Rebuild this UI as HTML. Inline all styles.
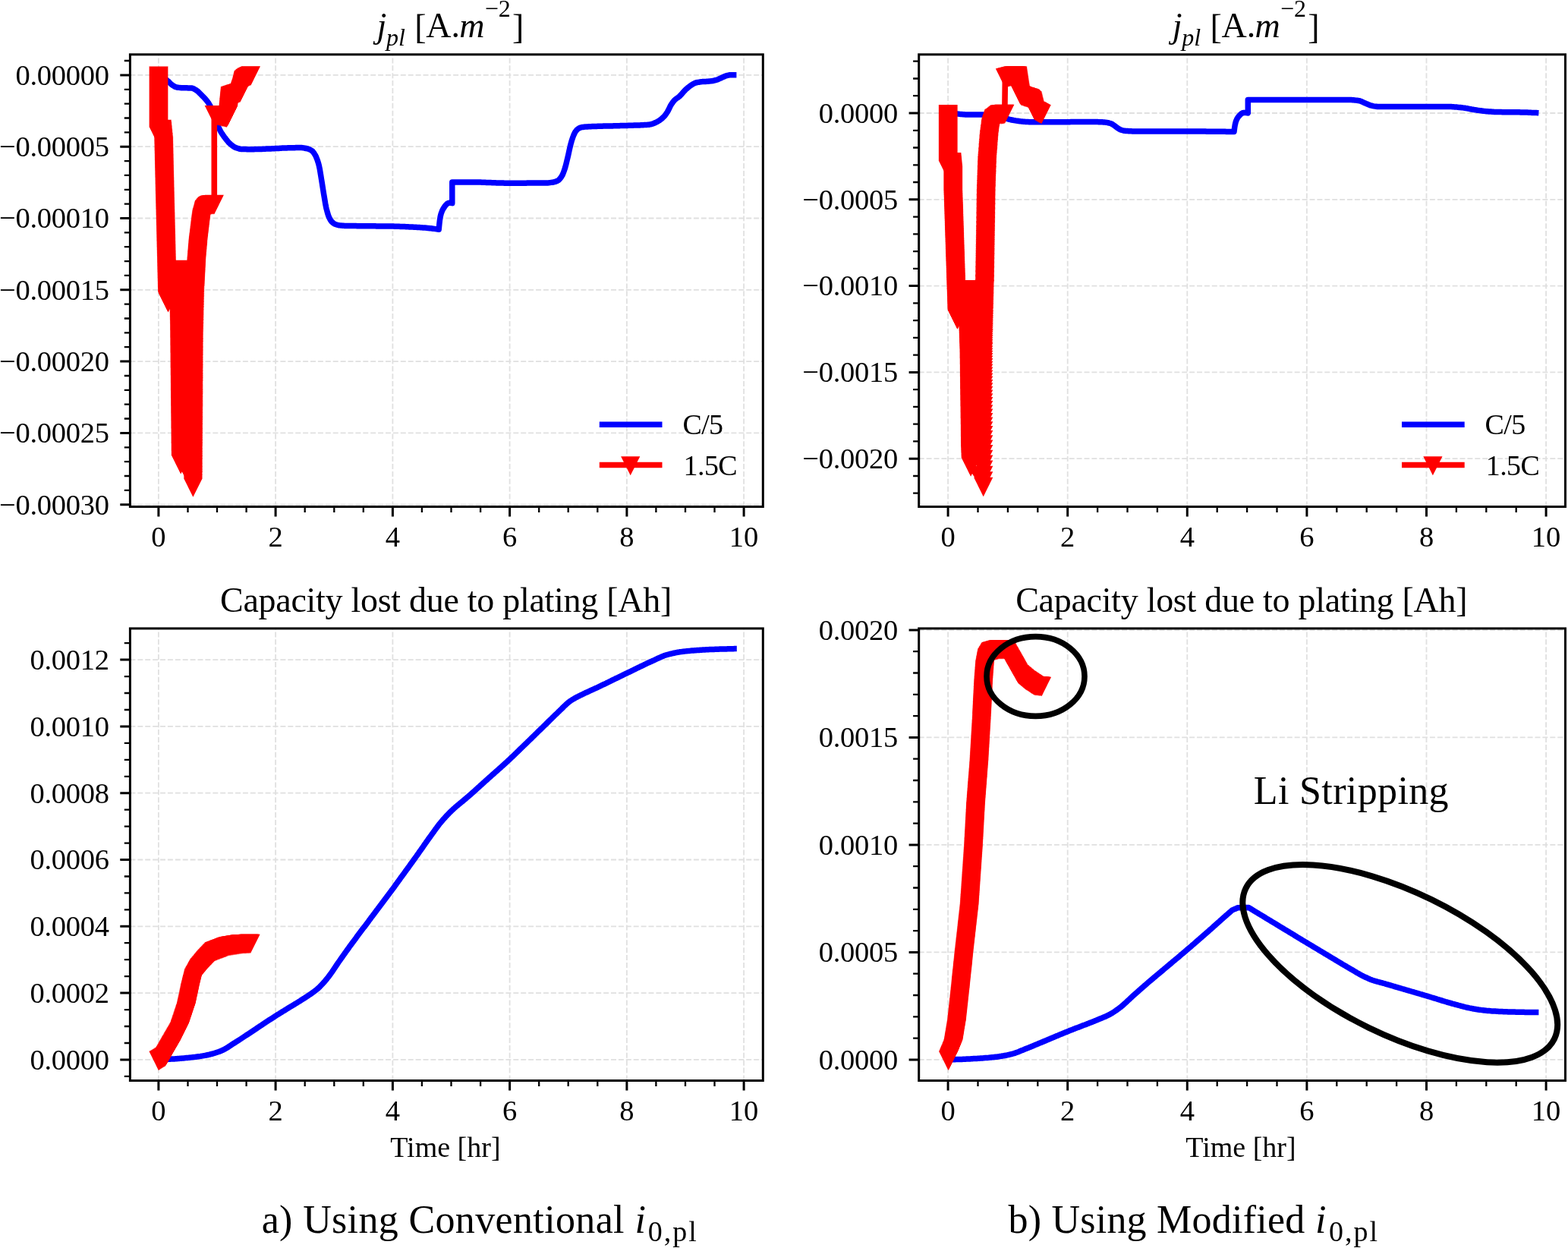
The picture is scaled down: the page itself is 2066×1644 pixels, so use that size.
<!DOCTYPE html>
<html lang="en"><head><meta charset="utf-8"><title>Plating current density and capacity lost</title>
<style>html,body{margin:0;padding:0;background:#fff}body{width:2066px;height:1644px;overflow:hidden}svg{display:block}text{font-family:'Liberation Serif', 'DejaVu Serif', serif;fill:#000}</style>
</head><body>
<svg width="2066" height="1644" viewBox="0 0 2066 1644">
<rect width="2066" height="1644" fill="#fff"/>
<defs>
<marker id="tri" markerUnits="userSpaceOnUse" markerWidth="30" markerHeight="30" refX="15" refY="15" orient="0" overflow="visible"><path d="M2.4 3.6H27.6L15 29Z" fill="#f00"/></marker>
<clipPath id="clipTL"><rect x="171.4" y="71.8" width="833.9" height="595.7"/></clipPath>
<clipPath id="clipTR"><rect x="1210.7" y="71.8" width="851.8" height="595.7"/></clipPath>
<clipPath id="clipBL"><rect x="171.4" y="827.9" width="833.9" height="595.6"/></clipPath>
<clipPath id="clipBR"><rect x="1210.7" y="827.9" width="851.8" height="595.6"/></clipPath>
</defs>
<g id="axTL">
<path d="M208.9 667.5V71.8M363.1 667.5V71.8M517.4 667.5V71.8M671.6 667.5V71.8M825.9 667.5V71.8M980.1 667.5V71.8M171.4 98.9H1005.3M171.4 193.2H1005.3M171.4 287.5H1005.3M171.4 381.8H1005.3M171.4 476.1H1005.3M171.4 570.4H1005.3M171.4 664.7H1005.3" fill="none" stroke="#e0e0e0" stroke-width="1.8" stroke-dasharray="7 2.9"/>
<g clip-path="url(#clipTL)">
<polyline points="208.9,98.9 210.4,99.8 211.9,100.7 213.4,101.6 214.9,102.5 215,102.6 216.4,103.4 217.9,104.4 219.4,105.3 220.9,106.4 221,106.5 222.4,107.7 223.9,109.3 225.3,110.8 226,111.3 226.8,111.9 228.3,112.9 229.8,113.8 231.3,114.5 232.8,115 232.9,115 234.3,115.2 235.8,115.4 237.3,115.6 238.8,115.7 240.3,115.8 241,115.8 241.8,115.8 243.3,115.8 244.8,115.8 246.3,115.8 247.8,115.9 249.3,115.9 250.8,115.9 251.8,115.9 252.3,115.9 253.8,116.3 255.2,116.9 256.7,117.7 258.1,118.5 258.2,118.6 259.7,119.6 261.2,120.8 262.7,122.3 264.2,123.8 265.7,125.4 266.9,126.6 267.2,126.9 268.7,128.4 270.2,130 271.7,131.7 273.2,133.6 274.5,135.4 274.7,135.7 276.2,138.3 277.7,141.3 279.2,144.8 280.7,148.5 282.2,152.4 283.7,156.4 285.2,160.4 286.6,164.2 288.1,167.8 289.6,171 290.8,173.2 291.1,173.8 292.6,176.2 294.1,178.4 295.6,180.5 295.8,180.7 297.1,182.4 298.6,184.4 300.1,186.2 301.6,187.9 303.1,189.3 303.4,189.6 304.6,190.6 306.1,191.8 307.6,192.8 309.1,193.8 310.6,194.5 310.9,194.6 312.1,195 313.6,195.5 315.1,196 316.6,196.3 318,196.5 318.5,196.5 319.5,196.5 321,196.6 322.5,196.6 324,196.6 325.5,196.7 327,196.7 328.5,196.7 330,196.7 330,196.7 331.5,196.7 333,196.7 334.5,196.7 336,196.6 337.5,196.6 339,196.6 340.5,196.5 342,196.5 343.5,196.4 345,196.4 346.5,196.3 347.9,196.2 349.4,196.2 350.9,196.1 352.4,196.1 353.9,196 355.4,195.9 356.9,195.9 358.4,195.8 358.8,195.8 359.9,195.8 361.4,195.7 362.9,195.6 364.4,195.5 365.9,195.4 367.4,195.4 368.9,195.3 370.4,195.2 371.9,195.1 373.4,195 374.9,195 376.4,194.9 377.9,194.9 379.3,194.8 380,194.8 380.8,194.8 382.3,194.8 383.8,194.7 385.3,194.7 386.8,194.7 388.3,194.7 389.8,194.6 391.3,194.6 392.8,194.6 394.3,194.6 395.8,194.6 396.4,194.6 397.3,194.6 398.8,194.7 400.3,194.9 401.8,195.2 403.3,195.5 404.8,195.8 405.2,195.9 406.3,196.2 407.8,196.8 409.2,197.5 410.7,198.5 411.5,199 412.2,199.7 413.7,201.6 415.2,204.1 416.5,206.6 416.7,207.1 418.2,210.8 419.7,215.7 420.3,217.9 421.2,222.2 422.7,231.2 423.4,235.5 424.2,240.4 425.7,250 426.6,255.6 427.2,259.2 428.7,268.2 429.7,273.3 430.2,275.4 431.7,281 432.9,284.6 433.2,285.3 434.7,288.5 436.2,291 436.6,291.5 437.7,292.6 439.2,293.9 440.6,294.8 441.7,295.3 442.1,295.5 443.6,296 445.1,296.4 446.6,296.7 448,296.9 448.1,296.9 449.6,297.1 451.1,297.2 452.6,297.3 454.1,297.4 455.5,297.4 455.6,297.4 457.1,297.4 458.6,297.5 460.1,297.5 461.6,297.5 463.1,297.6 464.6,297.6 466.1,297.6 467.6,297.6 469.1,297.6 470.5,297.7 472,297.7 473.5,297.7 475,297.7 476.5,297.7 478,297.7 479.5,297.7 481,297.8 482.5,297.8 484,297.8 485.5,297.8 487,297.8 488.5,297.8 490,297.8 491.5,297.8 493,297.8 494.5,297.8 496,297.9 497.5,297.9 499,297.9 500.5,297.9 501.9,297.9 503.4,297.9 504.9,297.9 506.4,297.9 507.9,298 509.4,298 510.9,298 512.4,298 513.9,298 515.4,298.1 516.9,298.1 517.2,298.1 518.4,298.1 519.9,298.2 521.4,298.2 522.9,298.2 524.4,298.3 525.9,298.3 527.4,298.4 528.9,298.4 530.4,298.5 531.9,298.6 533.3,298.6 534.8,298.7 536.3,298.8 537.8,298.8 539.3,298.9 540.8,299 542.3,299 543.6,299.1 543.8,299.1 545.3,299.2 546.8,299.3 548.3,299.3 549.8,299.4 551.3,299.5 552.8,299.6 554.3,299.7 555.8,299.8 557.3,299.9 558.8,300 560.3,300.1 561.8,300.2 562.5,300.3 563.2,300.4 564.7,300.5 566.2,300.7 567.7,300.8 569.2,301 570.7,301.2 572.2,301.4 573.7,301.6 575.2,301.8 576.7,302 578.2,302.2 578.9,294.8 579.5,289.6 579.6,289.3 580.2,285.4 580.9,282.5 581.4,280.8 581.6,280.3 582.3,278.5 582.9,277 583.6,275.7 584.3,274.5 585,273.5 585.1,273.3 585.6,272.5 586.3,271.5 587,270.6 587.7,269.8 588.4,269.1 589,268.5 589.5,268.2 589.7,268.1 590.4,267.7 591.1,267.5 591.7,267.3 592,267.3 592.4,267.3 593.1,267.3 593.8,267.3 594.4,267.4 595.1,267.5 595.8,267.6 595.8,239.9 597.3,239.9 598.8,239.9 600.3,239.9 601.8,239.9 603.3,239.9 604.8,239.9 606.3,239.9 607.8,239.9 609.3,239.9 610.8,239.9 612.3,239.9 613.8,239.9 615.3,239.9 616.8,239.9 618.3,239.9 619.8,239.9 620,239.9 621.3,239.9 622.8,239.9 624.3,239.9 625.8,239.9 627.3,240 628.8,240 630.3,240 631.8,240.1 633.3,240.1 634.8,240.2 636.3,240.2 637.8,240.3 639.3,240.3 640.8,240.4 642.3,240.4 643.7,240.5 645.2,240.6 646.7,240.6 648.2,240.7 649.7,240.7 651.2,240.8 652.7,240.8 654.2,240.9 655.7,240.9 657.2,241 658.7,241 660.2,241.1 661.7,241.1 663.2,241.1 664.7,241.2 666.2,241.2 667.7,241.2 669.2,241.2 670.3,241.2 670.7,241.2 672.2,241.2 673.7,241.2 675.2,241.2 676.7,241.2 678.2,241.2 679.7,241.2 681.2,241.2 682.7,241.2 684.2,241.2 685.7,241.2 687.2,241.2 688.7,241.2 690.2,241.2 691.7,241.2 693.2,241.2 694.7,241.1 696.2,241.1 697.7,241.1 699.2,241.1 700.7,241.1 702.2,241.1 703.7,241.1 705.2,241.1 706.7,241.1 708.2,241 709.7,241 711.2,241 712.7,241 714.2,241 715.7,241 717.2,240.9 718.7,240.9 720.2,240.9 720.7,240.9 721.7,240.9 723.2,240.8 724.7,240.6 726.2,240.4 727.7,240.2 729.2,240 729.5,239.9 730.7,239.6 732.2,239.2 733.7,238.6 735.2,237.8 735.8,237.4 736.6,236.8 738.1,235.1 739.6,233 740.8,231.1 741.1,230.5 742.6,226.9 744.1,222.5 744.6,221 745.6,217.3 747.1,211.2 748.4,205.9 748.6,204.9 750.1,198 751.6,191.4 752.1,189.6 753.1,185.9 754.6,181.3 755.3,179.5 756.1,177.5 757.6,174.4 758.4,173.2 759.1,172.3 760.6,170.6 762.1,169.4 762.2,169.4 763.6,168.7 765.1,168 766.6,167.6 767.2,167.5 768.1,167.4 769.6,167.2 771.1,167.1 772.6,166.9 773.5,166.9 774.1,166.9 775.6,166.8 777.1,166.7 778.6,166.7 780.1,166.6 781.6,166.5 783.1,166.5 784.6,166.4 786.1,166.4 787.6,166.3 789.1,166.3 790.6,166.2 792.1,166.2 793.6,166.2 795.1,166.1 796.6,166.1 798.1,166.1 799.6,166 801.1,166 802.6,166 804.1,165.9 805.6,165.9 807.1,165.9 808.6,165.8 810.1,165.8 811.6,165.8 813.1,165.7 814.6,165.7 816.1,165.7 817.6,165.6 819.1,165.6 820.6,165.5 822.1,165.5 823.6,165.4 825.1,165.4 825.1,165.4 826.6,165.4 828.1,165.3 829.6,165.3 831,165.2 832.5,165.2 834,165.2 835.5,165.1 837,165.1 838.5,165 840,165 841.5,164.9 843,164.9 844.5,164.8 846,164.8 847.5,164.7 849,164.6 850.5,164.5 852,164.5 852.8,164.4 853.5,164.3 855,164.2 856.5,163.9 857.7,163.7 858,163.6 859.5,163.2 861,162.7 862.5,162 864,161.3 865.5,160.6 865.5,160.6 867,159.8 868.5,158.9 870,157.8 871.5,156.7 873,155.4 873.2,155.2 874.5,153.9 876,152.2 877.5,150.2 879,148 879.4,147.4 880.5,145.4 882,142.3 883.5,139.2 884.1,138.2 885,136.8 886.5,134.6 888,132.8 888.7,132 889.5,131.3 891,130 892.5,129 894,127.9 895.5,126.7 895.7,126.5 897,125.2 898.5,123.5 900,121.8 901.5,120.1 902.7,118.8 903,118.5 904.5,117.1 906,115.8 907.5,114.6 909,113.4 909.6,113 910.5,112.4 912,111.4 913.5,110.5 915,109.7 916.5,109.1 916.6,109.1 918,108.7 919.5,108.4 921,108.2 922.5,107.9 923.6,107.8 923.9,107.8 925.4,107.6 926.9,107.5 928.4,107.4 929.9,107.4 931.4,107.3 932.9,107.2 934.4,107.1 935.2,107 935.9,106.9 937.4,106.7 938.9,106.5 940.4,106.2 941.9,105.8 942.9,105.6 943.4,105.5 944.9,105 946.4,104.4 947.9,103.7 949.4,103.1 950.7,102.5 950.9,102.4 952.4,101.7 953.9,101 955.4,100.3 956.9,99.8 956.9,99.8 958.4,99.4 959.9,99.1 961.4,98.8 962.3,98.8 962.9,98.8 964.4,98.8 965.9,98.8 967.4,98.8 968.9,98.8 970.4,98.8" fill="none" stroke="#00f" stroke-width="7.5" stroke-linejoin="round"/>
<polyline points="209,99 209,100 209,101 209,102 209,103 209,104 209,105 209,106 209,107 209,108 209,109 209,110 209,111 209,112 209,113 209,114 209,115 209,116 209,117 209,118 209,119 209,120 209,121 209,122 209,123 209,124 209,125 209,126 209,127 209,128 209,129 209,130 209,131 209,132 209,133 209,134 209,135 209,136 209,137 209,138 209,139 209,140 209,141 209,142 209,143 209,144 209,145 209,146 209,147 209,148 209,149 209,150 209,151 209,152 209,153 209,154 209,155 209,156 209,157 209,158 209,159 209,160 209,161 209,162 209,163 209,164 209,165 209,166 209,167 209,168 209,169 209,170 209,171 209,172 209,173 209,174 209,175 209,176 209,177 209,178 213.3,169.2 213.4,170.2 213.5,171.2 213.7,172.2 213.8,173.2 213.8,174.2 213.9,175.1 214.1,176.1 214.2,177.1 214.2,178.1 214.3,179.1 214.4,180.1 214.6,181.1 214.7,182.1 214.8,183.1 214.8,184.1 214.9,185.1 215.1,186.1 215.2,187 215.2,188 215.3,189 215.5,190 215.6,191 215.7,192 215.7,193 215.7,194 215.7,195 215.7,196 215.8,197 215.8,198 215.8,199 215.8,200 215.9,201 215.9,202 215.9,203 215.9,204 215.9,205 216,206 216,207 216,208 216,209 216.1,210 216.1,211 216.1,212 216.1,213 216.2,214 216.2,215 216.2,216 216.2,217 216.2,218 216.3,219 216.3,220 216.3,221 216.3,222 216.4,223 216.4,224 216.4,225 216.4,226 216.4,227 216.5,228 216.5,229 216.5,230 216.5,231 216.6,232 216.6,233 216.6,234 216.6,235 216.7,236 216.7,237 216.7,238 216.7,239 216.7,240 216.8,241 216.8,242 216.8,243 216.8,244 216.9,245 216.9,246 216.9,247 216.9,248 217,249 217,250 217,251 217,252 217,253 217.1,254 217.1,255 217.1,256 217.1,257 217.2,258 217.2,259 217.2,260 217.2,261 217.2,262 217.3,263 217.3,264 217.3,265 217.3,266 217.4,267 217.4,268 217.4,269 217.4,270 217.5,271 217.5,272 217.5,273 217.5,274 217.6,275 217.6,276 217.6,277 217.6,278 217.7,279 217.7,280 217.7,281 217.7,282 217.8,283 217.8,284 217.8,285 217.8,286 217.9,287 217.9,288 217.9,289 217.9,290 218,291 218,292 218,293 218,294 218.1,295 218.1,296 218.1,297 218.1,298 218.1,299 218.2,300 218.2,301 218.2,302 218.2,303 218.3,304 218.3,305 218.3,306 218.3,307 218.4,308 218.4,309 218.4,310 218.4,311 218.5,312 218.5,313 218.5,314 218.5,315 218.6,316 218.6,317 218.6,318 218.6,319 218.7,320 218.7,321 218.7,322 218.7,323 218.8,324 218.8,325 218.8,326 218.8,327 218.8,328 218.9,329 218.9,330 218.9,331 218.9,332 219,333 219,334 219,335 219,336 219.1,337 219.1,338 219.1,339 219.1,340 219.2,341 219.2,342 219.2,343 219.2,344 219.3,345 219.3,346 219.3,347 219.3,348 219.4,349 219.4,350 219.4,351 219.4,352 219.5,353 219.5,354 219.5,355 219.5,356 219.6,357 219.6,358 219.6,359 219.6,360 219.6,361 219.7,362 219.7,363 219.7,364 219.7,365 219.8,366 219.8,367 219.8,368 219.8,369 219.9,370 219.9,371 219.9,372 219.9,373 220,374 220,375 220,376 220,377 220.1,378 220.1,379 220.1,380 220.1,381 220.2,382 220.2,383 220.2,384 220.2,385 220.3,386 220.3,387 220.3,388 220.3,389 220.4,390 220.4,391 220.4,392 220.4,393 220.4,394 220.7,394.9 221,395.8 221.3,396.6 221.6,397.5 234.7,354.2 234.7,355.2 234.7,356.2 234.8,357.2 234.8,358.2 234.8,359.2 234.8,360.2 234.8,361.2 234.9,362.2 234.9,363.2 234.9,364.2 234.9,365.2 235,366.2 235,367.2 235,368.2 235,369.2 235,370.2 235.1,371.2 235.1,372.2 235.1,373.2 235.1,374.2 235.1,375.2 235.2,376.1 235.2,377.1 235.2,378.1 235.2,379.1 235.2,380.1 235.3,381.1 235.3,382.1 235.3,383.1 235.3,384.1 235.3,385.1 235.4,386.1 235.4,387.1 235.4,388.1 235.4,389.1 235.5,390.1 235.5,391.1 235.5,392.1 235.5,393.1 235.5,394.1 235.6,395.1 235.6,396.1 235.6,397.1 235.6,398.1 235.6,399.1 235.7,400.1 235.7,401.1 235.7,402.1 235.7,403.1 235.7,404.1 235.8,405.1 235.8,406.1 235.8,407.1 235.8,408.1 235.9,409.1 235.9,410.1 235.9,411.1 235.9,412.1 235.9,413.1 236,414.1 236,415.1 236,416.1 236,417.1 236,418.1 236.1,419 236.1,420 236.1,421 236.1,422 236.1,423 236.2,424 236.2,425 236.2,426 236.2,427 236.2,428 236.3,429 236.3,430 236.3,431 236.3,432 236.4,433 236.4,434 236.4,435 236.4,436 236.4,437 236.5,438 236.5,439 236.5,440 236.5,441 236.5,442 236.5,443 236.5,444 236.5,445 236.6,446 236.6,447 236.6,448 236.6,449 236.6,450 236.6,451 236.6,452 236.6,453 236.6,454 236.6,455 236.7,456 236.7,457 236.7,457.9 236.7,458.9 236.7,459.9 236.7,460.9 236.7,461.9 236.7,462.9 236.7,463.9 236.7,464.9 236.8,465.9 236.8,466.9 236.8,467.9 236.8,468.9 236.8,469.9 236.8,470.9 236.8,471.9 236.8,472.9 236.8,473.9 236.8,474.9 236.9,475.9 236.9,476.9 236.9,477.9 236.9,478.9 236.9,479.9 236.9,480.9 236.9,481.9 236.9,482.9 236.9,483.9 236.9,484.9 237,485.9 237,486.9 237,487.9 237,488.9 237,489.9 237,490.9 237,491.8 237,492.8 237,493.8 237,494.8 237.1,495.8 237.1,496.8 237.1,497.8 237.1,498.8 237.1,499.8 237.1,500.8 237.1,501.8 237.1,502.8 237.1,503.8 237.1,504.8 237.2,505.8 237.2,506.8 237.2,507.8 237.2,508.8 237.2,509.8 237.2,510.8 237.2,511.8 237.2,512.8 237.2,513.8 237.2,514.8 237.3,515.8 237.3,516.8 237.3,517.8 237.3,518.8 237.3,519.8 237.3,520.8 237.3,521.8 237.3,522.8 237.3,523.8 237.3,524.8 237.4,525.7 237.4,526.7 237.4,527.7 237.4,528.7 237.4,529.7 237.4,530.7 237.4,531.7 237.4,532.7 237.4,533.7 237.4,534.7 237.5,535.7 237.5,536.7 237.5,537.7 237.5,538.7 237.5,539.7 237.5,540.7 237.5,541.7 237.5,542.7 237.5,543.7 237.5,544.7 237.6,545.7 237.6,546.7 237.6,547.7 237.6,548.7 237.6,549.7 237.6,550.7 237.6,551.7 237.6,552.7 237.6,553.7 237.6,554.7 237.7,555.7 237.7,556.7 237.7,557.7 237.7,558.7 237.7,559.6 237.7,560.6 237.7,561.6 237.7,562.6 237.7,563.6 237.7,564.6 237.8,565.6 237.8,566.6 237.8,567.6 237.8,568.6 237.8,569.6 237.8,570.6 237.8,571.6 237.8,572.6 237.8,573.6 237.8,574.6 237.9,575.6 237.9,576.6 237.9,577.6 237.9,578.6 237.9,579.6 237.9,580.6 237.9,581.6 237.9,582.6 237.9,583.6 237.9,584.6 238,585.6 238,586.6 238,587.6 238,588.6 238,589.6 238,590.6 238,591.6 238,592.6 238,593.5 238,594.5 238.1,595.5 238.1,596.5 238.1,597.5 238.1,598.5 238.1,599.5 238.1,600.5 238.1,601.5 238.1,602.5 238.1,603.5 238.1,604.5 238.2,605.5 238.2,606.5 238.2,607.5 238.2,608.5 238.2,609.5 238.2,610.5 254.4,640.8 254.4,638.9 254.4,637 254.4,635.1 254.4,633.2 254.5,631.3 254.5,629.4 254.5,627.5 254.5,625.5 254.5,623.6 254.5,621.7 254.5,619.8 254.5,617.9 254.5,616 254.6,614.1 254.6,612.2 254.6,610.3 254.6,608.4 254.6,606.5 254.6,604.6 254.6,602.7 254.6,600.8 254.6,598.8 254.7,596.9 254.7,595 254.7,593.1 254.7,591.2 254.7,589.3 254.7,587.4 254.7,585.5 254.7,583.6 254.7,581.7 254.8,579.8 254.8,577.9 254.8,576 254.8,574.1 254.8,572.1 254.8,570.2 254.8,568.3 254.8,566.4 254.8,564.5 254.9,562.6 254.9,560.7 254.9,558.8 254.9,556.9 254.9,555 254.9,553.1 254.9,551.2 254.9,549.3 254.9,547.4 255,545.4 255,543.5 255,541.6 255,539.7 255,537.8 255,535.9 255,534 255,532.1 255,530.2 255.1,528.3 255.1,526.4 255.1,524.5 255.1,522.6 255.1,520.7 255.1,518.7 255.1,516.8 255.1,514.9 255.1,513 255.2,511.1 255.2,509.2 255.2,507.3 255.2,505.4 255.2,503.5 255.2,501.6 255.2,499.7 255.2,497.8 255.2,495.9 255.3,494 255.3,492 255.3,490.1 255.3,488.2 255.3,486.3 255.3,484.4 255.3,482.5 255.3,480.6 255.3,478.7 255.4,476.8 255.4,474.9 255.4,473 255.4,471.1 255.4,469.2 255.4,467.3 255.4,465.3 255.4,463.4 255.4,461.5 255.5,459.6 255.5,457.7 255.5,455.8 255.5,453.9 255.5,452 255.5,450.1 255.6,448.2 255.6,446.4 255.7,444.5 255.7,442.6 255.8,440.7 255.8,438.8 255.9,436.9 255.9,435.1 255.9,433.2 256,431.3 256,429.4 256.1,427.5 256.1,425.6 256.2,423.8 256.2,421.9 256.2,420 256.3,418.1 256.3,416.2 256.4,414.4 256.4,412.5 256.5,410.6 256.5,408.7 256.6,406.8 256.6,404.9 256.6,403.1 256.7,401.2 256.7,399.3 256.8,397.4 256.8,395.5 256.9,393.6 256.9,391.8 257,389.9 257,388 257.1,387 257.1,386 257.2,385 257.2,384 257.3,382.9 257.3,381.9 257.4,380.9 257.4,379.9 257.5,378.9 257.5,377.9 257.6,376.9 257.6,375.9 257.7,374.9 257.7,373.9 257.8,372.8 257.8,371.8 257.9,370.8 257.9,369.8 258,368.8 258.1,367.8 258.1,366.8 258.2,365.8 258.2,364.8 258.3,363.7 258.3,362.7 258.4,361.7 258.4,360.7 258.5,359.7 258.5,358.7 258.6,357.7 258.6,356.7 258.7,355.7 258.7,354.7 258.8,353.6 258.8,352.6 258.9,351.6 258.9,350.6 259,349.6 259.1,348.6 259.2,347.6 259.3,346.6 259.4,345.6 259.4,344.6 259.5,343.6 259.6,342.5 259.7,341.5 259.8,340.5 259.9,339.5 260,338.5 260.1,337.5 260.1,336.5 260.2,335.5 260.3,334.5 260.4,333.5 260.5,332.5 260.6,331.5 260.7,330.4 260.8,329.4 260.8,328.4 260.9,327.4 261,326.4 261.1,325.4 261.2,324.4 261.3,323.4 261.4,322.4 261.6,321.5 261.7,320.5 261.8,319.5 261.9,318.5 262,317.6 262.2,316.6 262.3,315.6 262.4,314.6 262.5,313.7 262.6,312.7 262.8,311.7 262.9,310.7 263,309.7 263.1,308.8 263.2,307.8 263.3,306.8 263.5,305.8 263.6,304.9 263.7,303.9 263.8,302.9 263.9,301.9 264.1,301 264.2,300 264.3,299 264.4,298 264.6,297 264.7,296 264.8,295 265,294 265.1,293 265.3,292 265.4,291 265.5,290 265.7,289 265.8,288 266.1,287 266.3,286 266.6,285.1 266.9,284.1 267.1,283.1 267.4,282.1 267.7,281.2 268,280.2 268.2,279.2 268.5,278.2 268.8,277.3 269,276.3 269.3,275.3 269.9,274.6 270.6,273.8 271.2,273.1 271.8,272.4 272.5,271.6 273.1,270.9 273.9,270.4 274.7,270 275.5,269.6 276.3,269.1 277.3,269 278.3,268.8 279.3,268.6 280.3,268.5 281.3,268.4 282.3,268.2 282.3,150.3 283.2,150.5 284.2,150.7 285.1,151 286.1,151.2 287,151.4 288,151.6 288.9,151.8 289.9,152 290.8,152.3 291.8,152.5 292.7,152.7 293.7,152.9 294.6,153.1 295.6,153.3 296.5,153.6 297.5,153.8 298.4,154 298.9,153.2 299.4,152.4 299.8,151.7 300.3,150.9 300.8,150.1 300.9,149.1 301,148.1 301.1,147.1 301.2,146.2 301.3,145.2 301.4,144.2 301.5,143.2 301.6,142.2 301.7,141.2 301.8,140.3 301.9,139.3 302,138.3 302.1,137.3 302.2,136.3 302.3,135.3 302.4,134.4 302.5,133.4 302.6,132.4 302.7,131.4 302.8,130.4 302.9,129.4 303,128.5 303.1,127.5 303.2,126.5 303.3,125.5 304.3,125.2 305.3,124.9 306.2,124.5 307.2,124.2 308.2,123.9 309.2,123.6 310.1,123.2 311.1,122.9 312.1,122.6 313.1,122.3 314,121.9 315,121.6 316,121.3 316.4,120.3 316.7,119.3 317.1,118.3 317.4,117.4 317.8,116.4 318.1,115.4 318.5,114.4 318.8,113.4 319,112.4 319.2,111.4 319.5,110.4 319.8,109.4 320,108.4 320.2,107.4 320.5,106.4 320.8,105.4 321,104.4 321.8,103.8 322.5,103.1 323.3,102.5 324.1,101.8 324.9,101.2 325.8,100.8 326.7,100.4 327.6,100 328.5,99.5 329.4,99.1 330.4,98.7" fill="none" stroke="#f00" stroke-width="7.6" stroke-linejoin="round"/>
<polyline points="209,99 209,100 209,101 209,102 209,103 209,104 209,105 209,106 209,107 209,108 209,109 209,110 209,111 209,112 209,113 209,114 209,115 209,116 209,117 209,118 209,119 209,120 209,121 209,122 209,123 209,124 209,125 209,126 209,127 209,128 209,129 209,130 209,131 209,132 209,133 209,134 209,135 209,136 209,137 209,138 209,139 209,140 209,141 209,142 209,143 209,144 209,145 209,146 209,147 209,148 209,149 209,150 209,151 209,152 209,153 209,154 209,155 209,156 209,157 209,158 209,159 209,160 209,161 209,162 209,163 209,164 209,165 209,166 209,167 209,168 209,169 209,170 209,171 209,172 209,173 209,174 209,175 209,176 209,177 209,178" fill="none" stroke="none" marker-start="url(#tri)" marker-mid="url(#tri)" marker-end="url(#tri)"/>
<polyline points="213.3,169.2 213.4,170.2 213.5,171.2 213.7,172.2 213.8,173.2 213.8,174.2 213.9,175.1 214.1,176.1 214.2,177.1 214.2,178.1 214.3,179.1 214.4,180.1 214.6,181.1 214.7,182.1 214.8,183.1 214.8,184.1 214.9,185.1 215.1,186.1 215.2,187 215.2,188 215.3,189 215.5,190 215.6,191 215.7,192 215.7,193 215.7,194 215.7,195 215.7,196 215.8,197 215.8,198 215.8,199 215.8,200 215.9,201 215.9,202 215.9,203 215.9,204 215.9,205 216,206 216,207 216,208 216,209 216.1,210 216.1,211 216.1,212 216.1,213 216.2,214 216.2,215 216.2,216 216.2,217 216.2,218 216.3,219 216.3,220 216.3,221 216.3,222 216.4,223 216.4,224 216.4,225 216.4,226 216.4,227 216.5,228 216.5,229 216.5,230 216.5,231 216.6,232 216.6,233 216.6,234 216.6,235 216.7,236 216.7,237 216.7,238 216.7,239 216.7,240 216.8,241 216.8,242 216.8,243 216.8,244 216.9,245 216.9,246 216.9,247 216.9,248 217,249 217,250 217,251 217,252 217,253 217.1,254 217.1,255 217.1,256 217.1,257 217.2,258 217.2,259 217.2,260 217.2,261 217.2,262 217.3,263 217.3,264 217.3,265 217.3,266 217.4,267 217.4,268 217.4,269 217.4,270 217.5,271 217.5,272 217.5,273 217.5,274 217.6,275 217.6,276 217.6,277 217.6,278 217.7,279 217.7,280 217.7,281 217.7,282 217.8,283 217.8,284 217.8,285 217.8,286 217.9,287 217.9,288 217.9,289 217.9,290 218,291 218,292 218,293 218,294 218.1,295 218.1,296 218.1,297 218.1,298 218.1,299 218.2,300 218.2,301 218.2,302 218.2,303 218.3,304 218.3,305 218.3,306 218.3,307 218.4,308 218.4,309 218.4,310 218.4,311 218.5,312 218.5,313 218.5,314 218.5,315 218.6,316 218.6,317 218.6,318 218.6,319 218.7,320 218.7,321 218.7,322 218.7,323 218.8,324 218.8,325 218.8,326 218.8,327 218.8,328 218.9,329 218.9,330 218.9,331 218.9,332 219,333 219,334 219,335 219,336 219.1,337 219.1,338 219.1,339 219.1,340 219.2,341 219.2,342 219.2,343 219.2,344 219.3,345 219.3,346 219.3,347 219.3,348 219.4,349 219.4,350 219.4,351 219.4,352 219.5,353 219.5,354 219.5,355 219.5,356 219.6,357 219.6,358 219.6,359 219.6,360 219.6,361 219.7,362 219.7,363 219.7,364 219.7,365 219.8,366 219.8,367 219.8,368 219.8,369 219.9,370 219.9,371 219.9,372 219.9,373 220,374 220,375 220,376 220,377 220.1,378 220.1,379 220.1,380 220.1,381 220.2,382 220.2,383 220.2,384 220.2,385 220.3,386 220.3,387 220.3,388 220.3,389 220.4,390 220.4,391 220.4,392 220.4,393 220.4,394 220.7,394.9 221,395.8 221.3,396.6 221.6,397.5" fill="none" stroke="none" marker-start="url(#tri)" marker-mid="url(#tri)" marker-end="url(#tri)"/>
<polyline points="234.7,354.2 234.7,355.2 234.7,356.2 234.8,357.2 234.8,358.2 234.8,359.2 234.8,360.2 234.8,361.2 234.9,362.2 234.9,363.2 234.9,364.2 234.9,365.2 235,366.2 235,367.2 235,368.2 235,369.2 235,370.2 235.1,371.2 235.1,372.2 235.1,373.2 235.1,374.2 235.1,375.2 235.2,376.1 235.2,377.1 235.2,378.1 235.2,379.1 235.2,380.1 235.3,381.1 235.3,382.1 235.3,383.1 235.3,384.1 235.3,385.1 235.4,386.1 235.4,387.1 235.4,388.1 235.4,389.1 235.5,390.1 235.5,391.1 235.5,392.1 235.5,393.1 235.5,394.1 235.6,395.1 235.6,396.1 235.6,397.1 235.6,398.1 235.6,399.1 235.7,400.1 235.7,401.1 235.7,402.1 235.7,403.1 235.7,404.1 235.8,405.1 235.8,406.1 235.8,407.1 235.8,408.1 235.9,409.1 235.9,410.1 235.9,411.1 235.9,412.1 235.9,413.1 236,414.1 236,415.1 236,416.1 236,417.1 236,418.1 236.1,419 236.1,420 236.1,421 236.1,422 236.1,423 236.2,424 236.2,425 236.2,426 236.2,427 236.2,428 236.3,429 236.3,430 236.3,431 236.3,432 236.4,433 236.4,434 236.4,435 236.4,436 236.4,437 236.5,438 236.5,439 236.5,440 236.5,441 236.5,442 236.5,443 236.5,444 236.5,445 236.6,446 236.6,447 236.6,448 236.6,449 236.6,450 236.6,451 236.6,452 236.6,453 236.6,454 236.6,455 236.7,456 236.7,457 236.7,457.9 236.7,458.9 236.7,459.9 236.7,460.9 236.7,461.9 236.7,462.9 236.7,463.9 236.7,464.9 236.8,465.9 236.8,466.9 236.8,467.9 236.8,468.9 236.8,469.9 236.8,470.9 236.8,471.9 236.8,472.9 236.8,473.9 236.8,474.9 236.9,475.9 236.9,476.9 236.9,477.9 236.9,478.9 236.9,479.9 236.9,480.9 236.9,481.9 236.9,482.9 236.9,483.9 236.9,484.9 237,485.9 237,486.9 237,487.9 237,488.9 237,489.9 237,490.9 237,491.8 237,492.8 237,493.8 237,494.8 237.1,495.8 237.1,496.8 237.1,497.8 237.1,498.8 237.1,499.8 237.1,500.8 237.1,501.8 237.1,502.8 237.1,503.8 237.1,504.8 237.2,505.8 237.2,506.8 237.2,507.8 237.2,508.8 237.2,509.8 237.2,510.8 237.2,511.8 237.2,512.8 237.2,513.8 237.2,514.8 237.3,515.8 237.3,516.8 237.3,517.8 237.3,518.8 237.3,519.8 237.3,520.8 237.3,521.8 237.3,522.8 237.3,523.8 237.3,524.8 237.4,525.7 237.4,526.7 237.4,527.7 237.4,528.7 237.4,529.7 237.4,530.7 237.4,531.7 237.4,532.7 237.4,533.7 237.4,534.7 237.5,535.7 237.5,536.7 237.5,537.7 237.5,538.7 237.5,539.7 237.5,540.7 237.5,541.7 237.5,542.7 237.5,543.7 237.5,544.7 237.6,545.7 237.6,546.7 237.6,547.7 237.6,548.7 237.6,549.7 237.6,550.7 237.6,551.7 237.6,552.7 237.6,553.7 237.6,554.7 237.7,555.7 237.7,556.7 237.7,557.7 237.7,558.7 237.7,559.6 237.7,560.6 237.7,561.6 237.7,562.6 237.7,563.6 237.7,564.6 237.8,565.6 237.8,566.6 237.8,567.6 237.8,568.6 237.8,569.6 237.8,570.6 237.8,571.6 237.8,572.6 237.8,573.6 237.8,574.6 237.9,575.6 237.9,576.6 237.9,577.6 237.9,578.6 237.9,579.6 237.9,580.6 237.9,581.6 237.9,582.6 237.9,583.6 237.9,584.6 238,585.6 238,586.6 238,587.6 238,588.6 238,589.6 238,590.6 238,591.6 238,592.6 238,593.5 238,594.5 238.1,595.5 238.1,596.5 238.1,597.5 238.1,598.5 238.1,599.5 238.1,600.5 238.1,601.5 238.1,602.5 238.1,603.5 238.1,604.5 238.2,605.5 238.2,606.5 238.2,607.5 238.2,608.5 238.2,609.5 238.2,610.5" fill="none" stroke="none" marker-start="url(#tri)" marker-mid="url(#tri)" marker-end="url(#tri)"/>
<polyline points="254.4,640.8 254.4,638.9 254.4,637 254.4,635.1 254.4,633.2 254.5,631.3 254.5,629.4 254.5,627.5 254.5,625.5 254.5,623.6 254.5,621.7 254.5,619.8 254.5,617.9 254.5,616 254.6,614.1 254.6,612.2 254.6,610.3 254.6,608.4 254.6,606.5 254.6,604.6 254.6,602.7 254.6,600.8 254.6,598.8 254.7,596.9 254.7,595 254.7,593.1 254.7,591.2 254.7,589.3 254.7,587.4 254.7,585.5 254.7,583.6 254.7,581.7 254.8,579.8 254.8,577.9 254.8,576 254.8,574.1 254.8,572.1 254.8,570.2 254.8,568.3 254.8,566.4 254.8,564.5 254.9,562.6 254.9,560.7 254.9,558.8 254.9,556.9 254.9,555 254.9,553.1 254.9,551.2 254.9,549.3 254.9,547.4 255,545.4 255,543.5 255,541.6 255,539.7 255,537.8 255,535.9 255,534 255,532.1 255,530.2 255.1,528.3 255.1,526.4 255.1,524.5 255.1,522.6 255.1,520.7 255.1,518.7 255.1,516.8 255.1,514.9 255.1,513 255.2,511.1 255.2,509.2 255.2,507.3 255.2,505.4 255.2,503.5 255.2,501.6 255.2,499.7 255.2,497.8 255.2,495.9 255.3,494 255.3,492 255.3,490.1 255.3,488.2 255.3,486.3 255.3,484.4 255.3,482.5 255.3,480.6 255.3,478.7 255.4,476.8 255.4,474.9 255.4,473 255.4,471.1 255.4,469.2 255.4,467.3 255.4,465.3 255.4,463.4 255.4,461.5 255.5,459.6 255.5,457.7 255.5,455.8 255.5,453.9 255.5,452 255.5,450.1 255.6,448.2 255.6,446.4 255.7,444.5 255.7,442.6 255.8,440.7 255.8,438.8 255.9,436.9 255.9,435.1 255.9,433.2 256,431.3 256,429.4 256.1,427.5 256.1,425.6 256.2,423.8 256.2,421.9 256.2,420 256.3,418.1 256.3,416.2 256.4,414.4 256.4,412.5 256.5,410.6 256.5,408.7 256.6,406.8 256.6,404.9 256.6,403.1 256.7,401.2 256.7,399.3 256.8,397.4 256.8,395.5 256.9,393.6 256.9,391.8 257,389.9 257,388 257.1,387 257.1,386 257.2,385 257.2,384 257.3,382.9 257.3,381.9 257.4,380.9 257.4,379.9 257.5,378.9 257.5,377.9 257.6,376.9 257.6,375.9 257.7,374.9 257.7,373.9 257.8,372.8 257.8,371.8 257.9,370.8 257.9,369.8 258,368.8 258.1,367.8 258.1,366.8 258.2,365.8 258.2,364.8 258.3,363.7 258.3,362.7 258.4,361.7 258.4,360.7 258.5,359.7 258.5,358.7 258.6,357.7 258.6,356.7 258.7,355.7 258.7,354.7 258.8,353.6 258.8,352.6 258.9,351.6 258.9,350.6 259,349.6 259.1,348.6 259.2,347.6 259.3,346.6 259.4,345.6 259.4,344.6 259.5,343.6 259.6,342.5 259.7,341.5 259.8,340.5 259.9,339.5 260,338.5 260.1,337.5 260.1,336.5 260.2,335.5 260.3,334.5 260.4,333.5 260.5,332.5 260.6,331.5 260.7,330.4 260.8,329.4 260.8,328.4 260.9,327.4 261,326.4 261.1,325.4 261.2,324.4 261.3,323.4 261.4,322.4 261.6,321.5 261.7,320.5 261.8,319.5 261.9,318.5 262,317.6 262.2,316.6 262.3,315.6 262.4,314.6 262.5,313.7 262.6,312.7 262.8,311.7 262.9,310.7 263,309.7 263.1,308.8 263.2,307.8 263.3,306.8 263.5,305.8 263.6,304.9 263.7,303.9 263.8,302.9 263.9,301.9 264.1,301 264.2,300 264.3,299 264.4,298 264.6,297 264.7,296 264.8,295 265,294 265.1,293 265.3,292 265.4,291 265.5,290 265.7,289 265.8,288 266.1,287 266.3,286 266.6,285.1 266.9,284.1 267.1,283.1 267.4,282.1 267.7,281.2 268,280.2 268.2,279.2 268.5,278.2 268.8,277.3 269,276.3 269.3,275.3 269.9,274.6 270.6,273.8 271.2,273.1 271.8,272.4 272.5,271.6 273.1,270.9 273.9,270.4 274.7,270 275.5,269.6 276.3,269.1 277.3,269 278.3,268.8 279.3,268.6 280.3,268.5 281.3,268.4 282.3,268.2" fill="none" stroke="none" marker-start="url(#tri)" marker-mid="url(#tri)" marker-end="url(#tri)"/>
<polyline points="282.3,150.3 283.2,150.5 284.2,150.7 285.1,151 286.1,151.2 287,151.4 288,151.6 288.9,151.8 289.9,152 290.8,152.3 291.8,152.5 292.7,152.7 293.7,152.9 294.6,153.1 295.6,153.3 296.5,153.6 297.5,153.8 298.4,154 298.9,153.2 299.4,152.4 299.8,151.7 300.3,150.9 300.8,150.1 300.9,149.1 301,148.1 301.1,147.1 301.2,146.2 301.3,145.2 301.4,144.2 301.5,143.2 301.6,142.2 301.7,141.2 301.8,140.3 301.9,139.3 302,138.3 302.1,137.3 302.2,136.3 302.3,135.3 302.4,134.4 302.5,133.4 302.6,132.4 302.7,131.4 302.8,130.4 302.9,129.4 303,128.5 303.1,127.5 303.2,126.5 303.3,125.5 304.3,125.2 305.3,124.9 306.2,124.5 307.2,124.2 308.2,123.9 309.2,123.6 310.1,123.2 311.1,122.9 312.1,122.6 313.1,122.3 314,121.9 315,121.6 316,121.3 316.4,120.3 316.7,119.3 317.1,118.3 317.4,117.4 317.8,116.4 318.1,115.4 318.5,114.4 318.8,113.4 319,112.4 319.2,111.4 319.5,110.4 319.8,109.4 320,108.4 320.2,107.4 320.5,106.4 320.8,105.4 321,104.4 321.8,103.8 322.5,103.1 323.3,102.5 324.1,101.8 324.9,101.2 325.8,100.8 326.7,100.4 327.6,100 328.5,99.5 329.4,99.1 330.4,98.7" fill="none" stroke="none" marker-start="url(#tri)" marker-mid="url(#tri)" marker-end="url(#tri)"/>
</g>
<path d="M247.5 667.5v7.6M286 667.5v7.6M324.6 667.5v7.6M401.7 667.5v7.6M440.3 667.5v7.6M478.8 667.5v7.6M555.9 667.5v7.6M594.5 667.5v7.6M633.1 667.5v7.6M710.2 667.5v7.6M748.7 667.5v7.6M787.3 667.5v7.6M864.4 667.5v7.6M903 667.5v7.6M941.5 667.5v7.6M171.4 80h-7.6M171.4 117.8h-7.6M171.4 136.6h-7.6M171.4 155.5h-7.6M171.4 174.3h-7.6M171.4 212.1h-7.6M171.4 230.9h-7.6M171.4 249.8h-7.6M171.4 268.6h-7.6M171.4 306.4h-7.6M171.4 325.2h-7.6M171.4 344.1h-7.6M171.4 362.9h-7.6M171.4 400.7h-7.6M171.4 419.5h-7.6M171.4 438.4h-7.6M171.4 457.2h-7.6M171.4 495h-7.6M171.4 513.8h-7.6M171.4 532.7h-7.6M171.4 551.5h-7.6M171.4 589.3h-7.6M171.4 608.1h-7.6M171.4 627h-7.6M171.4 645.8h-7.6" fill="none" stroke="#000" stroke-width="2.3"/>
<path d="M208.9 667.5v13.1M363.1 667.5v13.1M517.4 667.5v13.1M671.6 667.5v13.1M825.9 667.5v13.1M980.1 667.5v13.1M171.4 98.9h-13.1M171.4 193.2h-13.1M171.4 287.5h-13.1M171.4 381.8h-13.1M171.4 476.1h-13.1M171.4 570.4h-13.1M171.4 664.7h-13.1" fill="none" stroke="#000" stroke-width="3.0"/>
<rect x="171.4" y="71.8" width="833.9" height="595.7" fill="none" stroke="#000" stroke-width="3.0"/>
<g font-size="38.5" text-anchor="end" letter-spacing="-0.25">
<text x="143.8" y="111.7">0.00000</text>
<text x="143.8" y="206">−0.00005</text>
<text x="143.8" y="300.3">−0.00010</text>
<text x="143.8" y="394.6">−0.00015</text>
<text x="143.8" y="488.9">−0.00020</text>
<text x="143.8" y="583.2">−0.00025</text>
<text x="143.8" y="677.5">−0.00030</text>
</g>
<g font-size="38.5" text-anchor="middle">
<text x="208.9" y="719.9">0</text>
<text x="363.1" y="719.9">2</text>
<text x="517.4" y="719.9">4</text>
<text x="671.6" y="719.9">6</text>
<text x="825.9" y="719.9">8</text>
<text x="980.1" y="719.9">10</text>
</g>
</g>
<g id="axTR">
<path d="M1249.1 667.5V71.8M1406.7 667.5V71.8M1564.3 667.5V71.8M1721.9 667.5V71.8M1879.5 667.5V71.8M2037.1 667.5V71.8M1210.7 149H2062.5M1210.7 262.8H2062.5M1210.7 376.6H2062.5M1210.7 490.4H2062.5M1210.7 604.2H2062.5" fill="none" stroke="#e0e0e0" stroke-width="1.8" stroke-dasharray="7 2.9"/>
<g clip-path="url(#clipTR)">
<polyline points="1249.1,149 1250.6,149.1 1252.2,149.2 1253.7,149.3 1255.2,149.4 1255.3,149.4 1256.7,149.5 1258.3,149.7 1259.8,149.8 1261.3,149.9 1261.5,149.9 1262.8,150.1 1264.4,150.3 1265.9,150.4 1266.6,150.5 1267.4,150.6 1269,150.7 1270.5,150.8 1272,150.9 1273.5,150.9 1273.6,150.9 1275.1,151 1276.6,151 1278.1,151 1279.7,151 1281.2,151 1281.9,151 1282.7,151 1284.2,151 1285.8,151 1287.3,151 1288.8,151 1290.3,151 1291.9,151 1292.9,151.1 1293.4,151.1 1294.9,151.1 1296.5,151.2 1298,151.3 1299.4,151.4 1299.5,151.4 1301,151.5 1302.6,151.6 1304.1,151.8 1305.6,152 1307.2,152.2 1308.4,152.3 1308.7,152.4 1310.2,152.6 1311.7,152.8 1313.3,153 1314.8,153.2 1316.1,153.4 1316.3,153.4 1317.8,153.7 1319.4,154.1 1320.9,154.5 1322.4,155 1324,155.5 1325.5,155.9 1327,156.4 1328.5,156.9 1330.1,157.3 1331.6,157.7 1332.8,158 1333.1,158 1334.7,158.3 1336.2,158.6 1337.7,158.8 1337.9,158.9 1339.2,159.1 1340.8,159.3 1342.3,159.5 1343.8,159.7 1345.3,159.9 1345.7,159.9 1346.9,160.1 1348.4,160.2 1349.9,160.3 1351.5,160.4 1353,160.5 1353.3,160.5 1354.5,160.6 1356,160.7 1357.6,160.7 1359.1,160.8 1360.6,160.8 1361.1,160.8 1362.2,160.8 1363.7,160.8 1365.2,160.8 1366.7,160.8 1368.3,160.8 1369.8,160.8 1371.3,160.8 1372.8,160.8 1372.8,160.8 1374.4,160.8 1375.9,160.8 1377.4,160.8 1379,160.8 1380.5,160.8 1382,160.8 1383.5,160.8 1385.1,160.8 1386.6,160.8 1388.1,160.8 1389.6,160.8 1391.2,160.7 1392.7,160.7 1394.2,160.7 1395.8,160.7 1397.3,160.7 1398.8,160.7 1400.3,160.7 1401.9,160.7 1402.3,160.7 1403.4,160.7 1404.9,160.7 1406.5,160.7 1408,160.7 1409.5,160.7 1411,160.6 1412.6,160.6 1414.1,160.6 1415.6,160.6 1417.1,160.6 1418.7,160.6 1420.2,160.6 1421.7,160.6 1423.3,160.6 1423.9,160.6 1424.8,160.6 1426.3,160.6 1427.8,160.6 1429.4,160.6 1430.9,160.6 1432.4,160.6 1434,160.6 1435.5,160.6 1437,160.6 1438.5,160.5 1440.1,160.5 1440.7,160.5 1441.6,160.6 1443.1,160.6 1444.6,160.6 1446.2,160.6 1447.7,160.7 1449.2,160.7 1449.7,160.7 1450.8,160.7 1452.3,160.8 1453.8,160.9 1455.3,161 1456.1,161.1 1456.9,161.2 1458.4,161.4 1459.9,161.7 1461.2,162 1461.5,162.1 1463,162.5 1464.5,163.1 1465.1,163.4 1466,163.9 1467.6,165 1468.3,165.5 1469.1,166.1 1470.6,167.2 1471.5,167.9 1472.1,168.3 1473.7,169.4 1474.7,170 1475.2,170.3 1476.7,171 1478,171.4 1478.3,171.5 1479.8,171.9 1481.3,172.2 1481.8,172.2 1482.8,172.4 1484.4,172.5 1485.9,172.6 1487,172.7 1487.4,172.7 1489,172.8 1490.5,172.8 1492,172.9 1493.4,172.9 1493.5,172.9 1495.1,172.9 1496.6,172.9 1498.1,172.9 1499.6,172.9 1501.1,173 1501.2,173 1502.7,173 1504.2,173 1505.8,173 1507.3,173 1508.8,173 1510.3,173 1511.9,173 1513.4,173 1514.9,173 1516.4,173 1518,173 1519.5,173 1521,173 1522.6,173 1524.1,173 1525.6,173 1527.1,173 1528.7,173 1530.2,173 1531.7,173 1533.3,173 1534.8,173 1536.3,173 1537.8,173 1539.4,173 1540.9,173 1542.4,173 1543.9,173 1545.5,173 1547,173 1548.5,173 1550.1,173 1551.6,173 1553.1,173 1554.6,173 1556.2,173 1557.7,173 1559.2,173 1560.8,173 1562.3,173 1563.8,173 1564.1,173 1565.3,173 1566.9,173 1568.4,173.1 1569.9,173.1 1571.4,173.1 1573,173.1 1574.5,173.1 1576,173.1 1577.6,173.1 1579.1,173.1 1580.6,173.1 1582.1,173.1 1583.7,173.1 1585.2,173.1 1586.7,173.1 1588.3,173.1 1589.8,173.2 1591.1,173.2 1591.3,173.2 1592.8,173.2 1594.4,173.2 1595.9,173.2 1597.4,173.2 1598.9,173.2 1600.5,173.2 1602,173.2 1603.5,173.2 1605.1,173.3 1606.6,173.3 1608.1,173.3 1609.6,173.3 1610.4,173.3 1611.2,173.3 1612.7,173.3 1614.2,173.3 1615.8,173.4 1617.3,173.4 1618.8,173.4 1620.3,173.4 1621.9,173.5 1623.4,173.5 1624.9,173.5 1626,173.4 1626.7,168 1627.3,164.3 1627.4,164.1 1628,161.4 1628.7,159.3 1629.4,157.6 1629.8,156.8 1630.1,156.3 1630.7,155.2 1631.4,154.2 1632.1,153.3 1632.8,152.5 1633.5,151.8 1633.6,151.7 1634.1,151.2 1634.8,150.5 1635.5,149.9 1636.2,149.4 1636.8,149 1637.5,148.7 1638,148.6 1638.2,148.6 1638.9,148.6 1639.6,148.5 1640.2,148.5 1640.9,148.5 1641,148.5 1641.6,148.5 1642.3,148.6 1642.9,148.7 1643.6,148.8 1644.3,149 1644.3,131.6 1645.8,131.6 1647.3,131.6 1648.8,131.6 1650.3,131.6 1651.8,131.6 1653.3,131.6 1654.8,131.6 1656.3,131.6 1657.8,131.6 1659.3,131.6 1660.8,131.6 1662.3,131.6 1663.8,131.6 1665.3,131.6 1666.7,131.6 1668.2,131.6 1669.7,131.6 1671.2,131.5 1672.7,131.5 1674.2,131.5 1675.7,131.5 1677.2,131.5 1678.7,131.5 1680.2,131.5 1681.7,131.5 1683.2,131.5 1684.7,131.5 1686.2,131.5 1687.7,131.5 1689.2,131.5 1690.7,131.5 1692.2,131.5 1693.7,131.5 1695.2,131.5 1696.7,131.5 1698.2,131.5 1699.7,131.5 1701.2,131.5 1702.7,131.5 1704.2,131.5 1705.7,131.5 1707.2,131.5 1708.6,131.5 1710.1,131.5 1711.6,131.5 1713.1,131.5 1714.6,131.5 1716.1,131.5 1717.6,131.5 1719.1,131.5 1720,131.5 1720.6,131.5 1722.1,131.5 1723.6,131.5 1725.1,131.5 1726.6,131.5 1728.1,131.5 1729.6,131.5 1731.1,131.5 1732.6,131.5 1734.1,131.5 1735.6,131.5 1737.1,131.5 1738.6,131.5 1740.1,131.5 1741.6,131.5 1743.1,131.5 1744.6,131.5 1746.1,131.5 1747.6,131.5 1749.1,131.5 1750.6,131.5 1752,131.5 1753.5,131.5 1755,131.5 1756.5,131.5 1758,131.5 1759.5,131.5 1761,131.5 1762.5,131.5 1764,131.5 1765.5,131.5 1767,131.5 1768.5,131.5 1770,131.5 1771.5,131.5 1773,131.5 1774.5,131.5 1776,131.5 1777.5,131.5 1777.6,131.5 1779,131.5 1780.5,131.6 1782,131.7 1783.5,131.8 1785,131.9 1786.5,132.1 1788,132.3 1789.5,132.5 1790.8,132.7 1791,132.7 1792.5,133.1 1793.9,133.7 1795.4,134.4 1796.9,135.1 1798.4,135.8 1799,136 1799.9,136.4 1801.4,137 1802.9,137.7 1804.4,138.3 1805.9,138.9 1807.2,139.2 1807.4,139.2 1808.9,139.6 1810.4,139.9 1811.9,140.1 1813.4,140.3 1814.9,140.5 1816.4,140.6 1817.1,140.6 1817.9,140.6 1819.4,140.6 1820.9,140.6 1822.4,140.6 1823.9,140.6 1825.4,140.6 1826.9,140.6 1828.4,140.6 1829.9,140.6 1831.4,140.6 1832.9,140.6 1834.4,140.6 1835.8,140.6 1837.3,140.6 1838.8,140.6 1840.3,140.6 1841.8,140.6 1843.3,140.6 1844.8,140.6 1846.3,140.6 1847.8,140.6 1849.3,140.6 1850.8,140.6 1852.3,140.6 1853.8,140.6 1855.3,140.6 1856.8,140.6 1858.3,140.6 1859.8,140.6 1861.3,140.6 1862.8,140.6 1864.3,140.6 1865.8,140.6 1867.3,140.6 1868.8,140.6 1870.3,140.6 1871.8,140.6 1873.3,140.6 1874.8,140.6 1876.3,140.6 1877.8,140.6 1879.2,140.6 1880.7,140.6 1882.2,140.6 1883.7,140.6 1885.2,140.6 1886.7,140.6 1888.2,140.6 1889.7,140.6 1891.2,140.6 1892.7,140.6 1894.2,140.6 1895.7,140.6 1897.2,140.6 1898.7,140.6 1900.2,140.6 1901.7,140.6 1903.2,140.6 1904.7,140.6 1906.2,140.6 1907.7,140.6 1909.2,140.6 1909.3,140.6 1910.7,140.6 1912.2,140.6 1913.7,140.7 1915.2,140.8 1916.7,140.9 1918.2,141 1919.7,141.1 1921.1,141.3 1922.6,141.4 1924.1,141.5 1925.6,141.7 1925.7,141.7 1927.1,141.9 1928.6,142.1 1930.1,142.3 1931.6,142.6 1933.1,142.8 1934.6,143.1 1936.1,143.4 1937.6,143.7 1939.1,144 1940.6,144.2 1942.1,144.5 1942.2,144.5 1943.6,144.7 1945.1,144.9 1946.6,145.2 1948.1,145.4 1949.6,145.6 1951.1,145.8 1952.6,146.1 1954.1,146.2 1955.6,146.4 1957.1,146.6 1958.6,146.7 1958.6,146.7 1960.1,146.8 1961.6,146.9 1963.1,147 1964.5,147.1 1966,147.2 1967.5,147.3 1969,147.4 1970.5,147.5 1972,147.5 1973.5,147.6 1975,147.6 1975.1,147.6 1976.5,147.6 1978,147.6 1979.5,147.7 1981,147.7 1982.5,147.7 1984,147.7 1985.5,147.7 1987,147.7 1988.5,147.7 1990,147.7 1991.5,147.7 1993,147.7 1994.5,147.7 1996,147.8 1997.5,147.8 1999,147.8 1999.8,147.8 2000.5,147.8 2002,147.8 2003.5,147.9 2005,147.9 2006.4,147.9 2007.9,148 2009.4,148 2010.9,148.1 2012.4,148.1 2013.9,148.2 2015.4,148.2 2016.9,148.3 2018.4,148.4 2019.9,148.4 2021.4,148.5 2022.9,148.6 2024.4,148.6 2025.9,148.7 2027.4,148.8" fill="none" stroke="#00f" stroke-width="7.5" stroke-linejoin="round"/>
<polyline points="1249.2,149.3 1249.2,150.3 1249.2,151.3 1249.2,152.3 1249.2,153.3 1249.2,154.3 1249.2,155.3 1249.2,156.3 1249.2,157.3 1249.2,158.3 1249.2,159.3 1249.2,160.3 1249.2,161.3 1249.2,162.3 1249.2,163.3 1249.2,164.3 1249.2,165.3 1249.2,166.3 1249.2,167.3 1249.2,168.3 1249.2,169.3 1249.2,170.3 1249.2,171.3 1249.2,172.3 1249.2,173.3 1249.2,174.3 1249.2,175.3 1249.2,176.3 1249.2,177.3 1249.2,178.3 1249.2,179.3 1249.2,180.3 1249.2,181.3 1249.2,182.3 1249.2,183.3 1249.2,184.3 1249.2,185.3 1249.2,186.4 1249.2,187.4 1249.2,188.4 1249.2,189.4 1249.2,190.4 1249.2,191.4 1249.2,192.4 1249.2,193.4 1249.2,194.4 1249.2,195.4 1249.2,196.4 1249.2,197.4 1249.2,198.4 1249.2,199.4 1249.2,200.4 1249.2,201.4 1249.2,202.4 1249.2,203.4 1249.2,204.4 1249.2,205.4 1249.2,206.4 1249.2,207.4 1249.2,208.4 1249.2,209.4 1249.2,210.4 1249.2,211.4 1249.2,212.4 1249.2,213.4 1249.2,214.4 1249.2,215.4 1249.2,216.4 1249.2,217.4 1249.2,218.4 1249.2,219.4 1249.2,220.4 1249.2,221.4 1249.2,222.4 1254,212.5 1254.1,213.5 1254.2,214.5 1254.3,215.5 1254.4,216.5 1254.5,217.5 1254.6,218.5 1254.7,219.5 1254.8,220.5 1254.9,221.5 1255,222.4 1255.1,223.4 1255.2,224.4 1255.3,225.4 1255.4,226.4 1255.5,227.4 1255.6,228.4 1255.7,229.4 1255.8,230.4 1255.8,231.4 1255.8,232.4 1255.8,233.4 1255.8,234.4 1255.8,235.4 1255.8,236.4 1255.8,237.4 1255.8,238.4 1255.8,239.4 1255.8,240.4 1255.8,241.4 1255.8,242.4 1255.8,243.4 1255.8,244.4 1255.8,245.4 1255.8,246.4 1255.8,247.5 1255.8,248.5 1255.8,249.5 1255.8,250.5 1255.8,251.5 1255.8,252.5 1255.8,253.5 1255.8,254.5 1255.8,255.5 1255.8,256.5 1255.8,257.5 1255.8,258.5 1255.8,259.5 1255.8,260.5 1255.8,261.5 1255.9,262.5 1255.9,263.5 1255.9,264.5 1256,265.5 1256,266.5 1256,267.5 1256.1,268.5 1256.1,269.5 1256.1,270.5 1256.2,271.5 1256.2,272.5 1256.2,273.5 1256.3,274.5 1256.3,275.5 1256.3,276.5 1256.4,277.5 1256.4,278.5 1256.4,279.5 1256.5,280.5 1256.5,281.5 1256.5,282.5 1256.6,283.5 1256.6,284.5 1256.6,285.5 1256.7,286.5 1256.7,287.5 1256.7,288.4 1256.8,289.4 1256.8,290.4 1256.8,291.4 1256.8,292.4 1256.9,293.4 1256.9,294.4 1256.9,295.4 1257,296.4 1257,297.4 1257,298.4 1257.1,299.4 1257.1,300.4 1257.1,301.4 1257.2,302.4 1257.2,303.4 1257.2,304.4 1257.3,305.4 1257.3,306.4 1257.3,307.4 1257.4,308.4 1257.4,309.4 1257.4,310.4 1257.5,311.4 1257.5,312.4 1257.5,313.4 1257.6,314.4 1257.6,315.4 1257.6,316.4 1257.7,317.4 1257.7,318.4 1257.7,319.4 1257.7,320.4 1257.8,321.4 1257.8,322.4 1257.8,323.4 1257.9,324.4 1257.9,325.4 1257.9,326.4 1258,327.4 1258,328.4 1258,329.4 1258.1,330.4 1258.1,331.4 1258.1,332.4 1258.2,333.4 1258.2,334.4 1258.2,335.4 1258.3,336.4 1258.3,337.4 1258.3,338.4 1258.4,339.4 1258.4,340.3 1258.4,341.3 1258.5,342.3 1258.5,343.3 1258.5,344.3 1258.6,345.3 1258.6,346.3 1258.6,347.3 1258.6,348.3 1258.7,349.3 1258.7,350.3 1258.7,351.3 1258.8,352.3 1258.8,353.3 1258.8,354.3 1258.9,355.3 1258.9,356.3 1258.9,357.3 1259,358.3 1259,359.3 1259,360.3 1259.1,361.3 1259.1,362.3 1259.1,363.3 1259.2,364.3 1259.2,365.3 1259.2,366.3 1259.3,367.3 1259.3,368.3 1259.3,369.3 1259.4,370.3 1259.4,371.3 1259.4,372.3 1259.5,373.3 1259.5,374.3 1259.5,375.3 1259.5,376.3 1259.6,377.3 1259.6,378.3 1259.6,379.3 1259.7,380.3 1259.7,381.3 1259.7,382.3 1259.8,383.3 1259.8,384.3 1259.8,385.3 1259.9,386.3 1259.9,387.3 1259.9,388.3 1260,389.3 1260,390.3 1260,391.3 1260.1,392.2 1260.1,393.2 1260.1,394.2 1260.2,395.2 1260.2,396.2 1260.2,397.2 1260.3,398.2 1260.3,399.2 1260.3,400.2 1260.4,401.2 1260.4,402.2 1260.4,403.2 1260.4,404.2 1260.5,405.2 1260.5,406.2 1260.5,407.2 1260.6,408.2 1260.6,409.2 1260.6,410.2 1260.7,411.2 1260.7,412.2 1260.7,413.2 1260.8,414.2 1260.8,415.2 1260.8,416.2 1260.9,417.2 1260.9,418.2 1261.2,419 1261.6,419.8 1273.7,380.4 1273.7,381.4 1273.8,382.4 1273.8,383.4 1273.8,384.4 1273.9,385.4 1273.9,386.4 1273.9,387.4 1274,388.4 1274,389.4 1274.1,390.4 1274.1,391.4 1274.1,392.4 1274.2,393.4 1274.2,394.4 1274.2,395.4 1274.3,396.4 1274.3,397.4 1274.3,398.4 1274.4,399.4 1274.4,400.4 1274.4,401.4 1274.5,402.4 1274.5,403.4 1274.5,404.4 1274.6,405.4 1274.6,406.4 1274.6,407.4 1274.7,408.4 1274.7,409.4 1274.8,410.4 1274.8,411.4 1274.8,412.4 1274.9,413.4 1274.9,414.4 1274.9,415.4 1275,416.4 1275,417.4 1275,418.4 1275.1,419.4 1275.1,420.4 1275.1,421.4 1275.2,422.4 1275.2,423.4 1275.2,424.4 1275.3,425.4 1275.3,426.5 1275.4,427.5 1275.4,428.5 1275.4,429.5 1275.5,430.5 1275.5,431.5 1275.5,432.5 1275.6,433.5 1275.6,434.5 1275.6,435.5 1275.7,436.5 1275.7,437.5 1275.7,438.5 1275.8,439.5 1275.8,440.5 1275.8,441.5 1275.9,442.5 1275.9,443.5 1276,444.5 1276,445.5 1276,446.5 1276.1,447.5 1276.1,448.5 1276.1,449.5 1276.2,450.5 1276.2,451.5 1276.2,452.5 1276.3,453.5 1276.3,454.5 1276.3,455.5 1276.4,456.5 1276.4,457.5 1276.4,458.5 1276.5,459.5 1276.5,460.5 1276.5,461.5 1276.6,462.5 1276.6,463.5 1276.7,464.5 1276.7,465.5 1276.7,466.5 1276.8,467.5 1276.8,468.5 1276.8,469.5 1276.9,470.5 1276.9,471.5 1276.9,472.5 1276.9,473.5 1276.9,474.5 1277,475.5 1277,476.5 1277,477.5 1277,478.5 1277,479.5 1277,480.5 1277,481.5 1277,482.5 1277.1,483.5 1277.1,484.5 1277.1,485.5 1277.1,486.5 1277.1,487.5 1277.1,488.5 1277.1,489.5 1277.1,490.5 1277.2,491.5 1277.2,492.5 1277.2,493.5 1277.2,494.5 1277.2,495.5 1277.2,496.5 1277.2,497.5 1277.2,498.5 1277.3,499.5 1277.3,500.5 1277.3,501.5 1277.3,502.5 1277.3,503.4 1277.3,504.4 1277.3,505.4 1277.3,506.4 1277.4,507.4 1277.4,508.4 1277.4,509.4 1277.4,510.4 1277.4,511.4 1277.4,512.4 1277.4,513.4 1277.4,514.4 1277.5,515.4 1277.5,516.4 1277.5,517.4 1277.5,518.4 1277.5,519.4 1277.5,520.4 1277.5,521.4 1277.5,522.4 1277.6,523.4 1277.6,524.4 1277.6,525.4 1277.6,526.4 1277.6,527.4 1277.6,528.4 1277.6,529.4 1277.6,530.4 1277.7,531.4 1277.7,532.4 1277.7,533.4 1277.7,534.4 1277.7,535.4 1277.7,536.4 1277.7,537.4 1277.8,538.4 1277.8,539.4 1277.8,540.4 1277.8,541.4 1277.8,542.4 1277.8,543.4 1277.8,544.4 1277.8,545.4 1277.9,546.4 1277.9,547.4 1277.9,548.4 1277.9,549.4 1277.9,550.4 1277.9,551.4 1277.9,552.4 1277.9,553.4 1278,554.4 1278,555.4 1278,556.4 1278,557.4 1278,558.4 1278,559.4 1278,560.4 1278,561.4 1278.1,562.4 1278.1,563.4 1278.1,564.4 1278.1,565.4 1278.1,566.3 1278.1,567.3 1278.1,568.3 1278.1,569.3 1278.2,570.3 1278.2,571.3 1278.2,572.3 1278.2,573.3 1278.2,574.3 1278.2,575.3 1278.2,576.3 1278.2,577.3 1278.3,578.3 1278.3,579.3 1278.3,580.3 1278.3,581.3 1278.3,582.3 1278.3,583.3 1278.3,584.3 1278.3,585.3 1278.4,586.3 1278.4,587.3 1278.4,588.3 1278.4,589.3 1278.4,590.3 1278.4,591.3 1278.4,592.3 1278.4,593.3 1278.5,594.3 1278.5,595.3 1278.5,596.3 1278.5,597.3 1278.5,598.3 1278.6,599.3 1278.6,600.4 1278.7,601.4 1278.7,602.4 1278.7,603.5 1278.8,604.5 1278.8,605.5 1278.8,606.5 1278.9,607.5 1278.9,608.6 1278.9,609.6 1279,610.6 1279,611.7 1279.1,612.7 1279.1,613.7 1295.7,640.2 1295.7,632.6 1295.7,625.2 1295.7,618 1295.7,611 1295.7,604.1 1295.7,597.4 1295.7,590.9 1295.7,584.6 1295.7,578.4 1295.7,572.4 1295.7,566.6 1295.7,560.9 1295.7,555.3 1295.7,549.9 1295.7,544.6 1295.7,539.5 1295.7,534.5 1295.7,529.6 1295.7,524.8 1295.7,520.2 1295.7,515.7 1295.7,511.3 1295.7,507 1295.7,502.8 1295.7,498.8 1295.7,494.8 1295.7,491 1295.7,487.2 1295.7,483.5 1295.7,480 1295.7,476.5 1295.7,473.1 1295.7,469.8 1295.7,466.6 1295.7,463.5 1295.7,461.5 1295.8,458.5 1295.8,455.6 1295.9,452.7 1295.9,449.8 1296,447 1296.1,444.3 1296.1,441.6 1296.2,438.9 1296.2,436.3 1296.3,433.7 1296.3,431.2 1296.4,428.7 1296.4,426.3 1296.5,423.9 1296.5,421.6 1296.6,419.3 1296.6,417 1296.7,414.8 1296.7,412.6 1296.8,410.4 1296.8,408.3 1296.9,406.2 1296.9,404.2 1296.9,402.2 1297,400.2 1297,398.2 1297.1,396.3 1297.1,394.5 1297.1,392.6 1297.2,390.8 1297.2,389 1297.3,387.3 1297.3,385.6 1297.3,383.9 1297.4,382.2 1297.4,380.6 1297.4,380.5 1297.4,379.3 1297.4,378.1 1297.5,376.9 1297.5,375.7 1297.5,374.5 1297.5,373.3 1297.5,372.1 1297.6,370.9 1297.6,369.7 1297.6,368.5 1297.6,367.3 1297.6,366.1 1297.6,364.9 1297.7,363.7 1297.7,362.5 1297.7,361.3 1297.7,360.1 1297.7,358.9 1297.8,357.7 1297.8,356.5 1297.8,355.3 1297.8,354.1 1297.8,352.9 1297.9,351.6 1297.9,350.4 1297.9,349.2 1297.9,348 1297.9,346.8 1298,345.6 1298,344.4 1298,343.2 1298,342 1298,340.8 1298.1,339.6 1298.1,338.4 1298.1,337.2 1298.1,336 1298.1,334.8 1298.1,333.6 1298.2,332.4 1298.2,331.2 1298.2,330 1298.2,328.8 1298.2,327.6 1298.3,326.4 1298.3,325.2 1298.3,324 1298.3,322.8 1298.3,321.6 1298.4,320.4 1298.4,319.2 1298.4,318 1298.4,316.8 1298.4,315.6 1298.4,314.4 1298.5,313.2 1298.5,312 1298.5,310.8 1298.5,309.6 1298.5,308.4 1298.6,307.1 1298.6,305.9 1298.6,304.7 1298.6,303.5 1298.6,302.3 1298.7,301.1 1298.7,299.9 1298.7,298.7 1298.7,297.5 1298.7,296.3 1298.7,295.1 1298.8,293.9 1298.8,292.7 1298.8,291.5 1298.8,290.3 1298.8,289.1 1298.8,287.9 1298.9,286.7 1298.9,285.5 1298.9,284.3 1298.9,283.1 1298.9,281.9 1298.9,280.7 1299,279.5 1299,278.3 1299,277.1 1299,275.9 1299,274.7 1299,273.5 1299.1,272.3 1299.1,271.1 1299.1,269.9 1299.1,268.7 1299.1,267.5 1299.1,266.3 1299.2,265.1 1299.2,263.9 1299.2,262.7 1299.2,261.5 1299.2,260.3 1299.3,259.1 1299.3,257.9 1299.4,256.7 1299.4,255.5 1299.4,254.3 1299.5,253.2 1299.5,252 1299.6,250.8 1299.6,249.6 1299.6,248.4 1299.7,247.2 1299.7,246 1299.8,244.8 1299.8,243.6 1299.8,242.4 1299.9,241.2 1299.9,240 1300,238.9 1300,237.7 1300.1,236.5 1300.1,235.3 1300.1,234.1 1300.2,232.9 1300.2,231.7 1300.3,230.5 1300.3,229.3 1300.3,228.1 1300.4,226.9 1300.4,225.7 1300.5,224.6 1300.5,223.4 1300.5,222.2 1300.6,221 1300.6,219.8 1300.7,218.6 1300.7,217.4 1300.8,216.2 1300.9,215 1301,213.8 1301.1,212.6 1301.2,211.3 1301.3,210.1 1301.4,208.9 1301.5,207.7 1301.6,206.5 1301.7,205.3 1301.8,204.1 1301.9,202.9 1302,201.7 1302,200.4 1302.1,199.2 1302.2,198 1302.3,196.8 1302.4,195.6 1302.5,194.4 1302.6,193.2 1302.7,192 1302.8,190.7 1302.9,189.5 1303,188.3 1303.1,187.1 1303.2,185.9 1303.4,184.7 1303.5,183.5 1303.7,182.4 1303.8,181.2 1304,180 1304.1,178.8 1304.3,177.6 1304.5,176.4 1304.6,175.3 1304.8,174.1 1304.9,172.9 1305.1,171.7 1305.2,170.5 1305.4,169.4 1305.5,168.2 1305.7,167 1306.1,165.9 1306.5,164.7 1306.8,163.6 1307.2,162.5 1307.6,161.3 1308,160.2 1308.4,159.1 1308.7,158 1309.1,156.8 1309.5,155.7 1310.4,155 1311.4,154.3 1312.3,153.6 1313.2,152.8 1314.2,152.1 1315.1,151.4 1316.1,150.7 1317,150 1318.1,149.8 1319.3,149.7 1320.4,149.6 1321.5,149.4 1322.7,149.2 1323.8,149.1 1324.4,101.7 1325.4,101.5 1326.3,101.2 1327.3,101 1328.3,100.7 1329.2,100.5 1330.2,100.2 1331.1,100 1332.1,99.7 1333.1,99.5 1334,99.2 1335,99 1335.9,99 1336.9,99 1337.8,99 1338.8,99 1339.7,99 1340.7,99 1340.8,100 1340.9,101 1341.1,101.9 1341.2,102.9 1341.4,103.9 1341.5,104.9 1341.7,105.9 1341.8,106.8 1342,107.8 1342.1,108.8 1342.3,109.8 1342.4,110.8 1342.5,111.7 1342.7,112.7 1342.8,113.7 1343,114.7 1343.1,115.7 1343.3,116.6 1343.4,117.6 1343.6,118.6 1343.7,119.6 1343.9,120.6 1344,121.5 1344.2,122.5 1344.3,123.5 1345.1,124.3 1345.9,125.2 1346.8,125.5 1347.8,125.8 1348.7,126.1 1349.6,126.4 1350.5,126.7 1351.5,127 1352.4,127.3 1353.3,127.6 1354.2,127.9 1355.2,128.2 1356.1,128.5 1357,128.8 1357.6,129.4 1358.3,130.1 1358.9,130.7 1359.6,131.4 1360.2,132 1360.4,133 1360.7,133.9 1360.9,134.9 1361.2,135.9 1361.4,136.8 1361.6,137.8 1361.9,138.8 1362.1,139.8 1362.3,140.7 1362.6,141.7 1362.8,142.7 1363.1,143.6 1363.3,144.6 1364.2,145.1 1365.1,145.5 1366,146 1366.8,146.5 1367.7,146.9 1368.6,147.4 1369.5,147.9 1370.4,148.4 1371.3,148.8 1372.2,149.3" fill="none" stroke="#f00" stroke-width="7.6" stroke-linejoin="round"/>
<polyline points="1249.2,149.3 1249.2,150.3 1249.2,151.3 1249.2,152.3 1249.2,153.3 1249.2,154.3 1249.2,155.3 1249.2,156.3 1249.2,157.3 1249.2,158.3 1249.2,159.3 1249.2,160.3 1249.2,161.3 1249.2,162.3 1249.2,163.3 1249.2,164.3 1249.2,165.3 1249.2,166.3 1249.2,167.3 1249.2,168.3 1249.2,169.3 1249.2,170.3 1249.2,171.3 1249.2,172.3 1249.2,173.3 1249.2,174.3 1249.2,175.3 1249.2,176.3 1249.2,177.3 1249.2,178.3 1249.2,179.3 1249.2,180.3 1249.2,181.3 1249.2,182.3 1249.2,183.3 1249.2,184.3 1249.2,185.3 1249.2,186.4 1249.2,187.4 1249.2,188.4 1249.2,189.4 1249.2,190.4 1249.2,191.4 1249.2,192.4 1249.2,193.4 1249.2,194.4 1249.2,195.4 1249.2,196.4 1249.2,197.4 1249.2,198.4 1249.2,199.4 1249.2,200.4 1249.2,201.4 1249.2,202.4 1249.2,203.4 1249.2,204.4 1249.2,205.4 1249.2,206.4 1249.2,207.4 1249.2,208.4 1249.2,209.4 1249.2,210.4 1249.2,211.4 1249.2,212.4 1249.2,213.4 1249.2,214.4 1249.2,215.4 1249.2,216.4 1249.2,217.4 1249.2,218.4 1249.2,219.4 1249.2,220.4 1249.2,221.4 1249.2,222.4" fill="none" stroke="none" marker-start="url(#tri)" marker-mid="url(#tri)" marker-end="url(#tri)"/>
<polyline points="1254,212.5 1254.1,213.5 1254.2,214.5 1254.3,215.5 1254.4,216.5 1254.5,217.5 1254.6,218.5 1254.7,219.5 1254.8,220.5 1254.9,221.5 1255,222.4 1255.1,223.4 1255.2,224.4 1255.3,225.4 1255.4,226.4 1255.5,227.4 1255.6,228.4 1255.7,229.4 1255.8,230.4 1255.8,231.4 1255.8,232.4 1255.8,233.4 1255.8,234.4 1255.8,235.4 1255.8,236.4 1255.8,237.4 1255.8,238.4 1255.8,239.4 1255.8,240.4 1255.8,241.4 1255.8,242.4 1255.8,243.4 1255.8,244.4 1255.8,245.4 1255.8,246.4 1255.8,247.5 1255.8,248.5 1255.8,249.5 1255.8,250.5 1255.8,251.5 1255.8,252.5 1255.8,253.5 1255.8,254.5 1255.8,255.5 1255.8,256.5 1255.8,257.5 1255.8,258.5 1255.8,259.5 1255.8,260.5 1255.8,261.5 1255.9,262.5 1255.9,263.5 1255.9,264.5 1256,265.5 1256,266.5 1256,267.5 1256.1,268.5 1256.1,269.5 1256.1,270.5 1256.2,271.5 1256.2,272.5 1256.2,273.5 1256.3,274.5 1256.3,275.5 1256.3,276.5 1256.4,277.5 1256.4,278.5 1256.4,279.5 1256.5,280.5 1256.5,281.5 1256.5,282.5 1256.6,283.5 1256.6,284.5 1256.6,285.5 1256.7,286.5 1256.7,287.5 1256.7,288.4 1256.8,289.4 1256.8,290.4 1256.8,291.4 1256.8,292.4 1256.9,293.4 1256.9,294.4 1256.9,295.4 1257,296.4 1257,297.4 1257,298.4 1257.1,299.4 1257.1,300.4 1257.1,301.4 1257.2,302.4 1257.2,303.4 1257.2,304.4 1257.3,305.4 1257.3,306.4 1257.3,307.4 1257.4,308.4 1257.4,309.4 1257.4,310.4 1257.5,311.4 1257.5,312.4 1257.5,313.4 1257.6,314.4 1257.6,315.4 1257.6,316.4 1257.7,317.4 1257.7,318.4 1257.7,319.4 1257.7,320.4 1257.8,321.4 1257.8,322.4 1257.8,323.4 1257.9,324.4 1257.9,325.4 1257.9,326.4 1258,327.4 1258,328.4 1258,329.4 1258.1,330.4 1258.1,331.4 1258.1,332.4 1258.2,333.4 1258.2,334.4 1258.2,335.4 1258.3,336.4 1258.3,337.4 1258.3,338.4 1258.4,339.4 1258.4,340.3 1258.4,341.3 1258.5,342.3 1258.5,343.3 1258.5,344.3 1258.6,345.3 1258.6,346.3 1258.6,347.3 1258.6,348.3 1258.7,349.3 1258.7,350.3 1258.7,351.3 1258.8,352.3 1258.8,353.3 1258.8,354.3 1258.9,355.3 1258.9,356.3 1258.9,357.3 1259,358.3 1259,359.3 1259,360.3 1259.1,361.3 1259.1,362.3 1259.1,363.3 1259.2,364.3 1259.2,365.3 1259.2,366.3 1259.3,367.3 1259.3,368.3 1259.3,369.3 1259.4,370.3 1259.4,371.3 1259.4,372.3 1259.5,373.3 1259.5,374.3 1259.5,375.3 1259.5,376.3 1259.6,377.3 1259.6,378.3 1259.6,379.3 1259.7,380.3 1259.7,381.3 1259.7,382.3 1259.8,383.3 1259.8,384.3 1259.8,385.3 1259.9,386.3 1259.9,387.3 1259.9,388.3 1260,389.3 1260,390.3 1260,391.3 1260.1,392.2 1260.1,393.2 1260.1,394.2 1260.2,395.2 1260.2,396.2 1260.2,397.2 1260.3,398.2 1260.3,399.2 1260.3,400.2 1260.4,401.2 1260.4,402.2 1260.4,403.2 1260.4,404.2 1260.5,405.2 1260.5,406.2 1260.5,407.2 1260.6,408.2 1260.6,409.2 1260.6,410.2 1260.7,411.2 1260.7,412.2 1260.7,413.2 1260.8,414.2 1260.8,415.2 1260.8,416.2 1260.9,417.2 1260.9,418.2 1261.2,419 1261.6,419.8" fill="none" stroke="none" marker-start="url(#tri)" marker-mid="url(#tri)" marker-end="url(#tri)"/>
<polyline points="1273.7,380.4 1273.7,381.4 1273.8,382.4 1273.8,383.4 1273.8,384.4 1273.9,385.4 1273.9,386.4 1273.9,387.4 1274,388.4 1274,389.4 1274.1,390.4 1274.1,391.4 1274.1,392.4 1274.2,393.4 1274.2,394.4 1274.2,395.4 1274.3,396.4 1274.3,397.4 1274.3,398.4 1274.4,399.4 1274.4,400.4 1274.4,401.4 1274.5,402.4 1274.5,403.4 1274.5,404.4 1274.6,405.4 1274.6,406.4 1274.6,407.4 1274.7,408.4 1274.7,409.4 1274.8,410.4 1274.8,411.4 1274.8,412.4 1274.9,413.4 1274.9,414.4 1274.9,415.4 1275,416.4 1275,417.4 1275,418.4 1275.1,419.4 1275.1,420.4 1275.1,421.4 1275.2,422.4 1275.2,423.4 1275.2,424.4 1275.3,425.4 1275.3,426.5 1275.4,427.5 1275.4,428.5 1275.4,429.5 1275.5,430.5 1275.5,431.5 1275.5,432.5 1275.6,433.5 1275.6,434.5 1275.6,435.5 1275.7,436.5 1275.7,437.5 1275.7,438.5 1275.8,439.5 1275.8,440.5 1275.8,441.5 1275.9,442.5 1275.9,443.5 1276,444.5 1276,445.5 1276,446.5 1276.1,447.5 1276.1,448.5 1276.1,449.5 1276.2,450.5 1276.2,451.5 1276.2,452.5 1276.3,453.5 1276.3,454.5 1276.3,455.5 1276.4,456.5 1276.4,457.5 1276.4,458.5 1276.5,459.5 1276.5,460.5 1276.5,461.5 1276.6,462.5 1276.6,463.5 1276.7,464.5 1276.7,465.5 1276.7,466.5 1276.8,467.5 1276.8,468.5 1276.8,469.5 1276.9,470.5 1276.9,471.5 1276.9,472.5 1276.9,473.5 1276.9,474.5 1277,475.5 1277,476.5 1277,477.5 1277,478.5 1277,479.5 1277,480.5 1277,481.5 1277,482.5 1277.1,483.5 1277.1,484.5 1277.1,485.5 1277.1,486.5 1277.1,487.5 1277.1,488.5 1277.1,489.5 1277.1,490.5 1277.2,491.5 1277.2,492.5 1277.2,493.5 1277.2,494.5 1277.2,495.5 1277.2,496.5 1277.2,497.5 1277.2,498.5 1277.3,499.5 1277.3,500.5 1277.3,501.5 1277.3,502.5 1277.3,503.4 1277.3,504.4 1277.3,505.4 1277.3,506.4 1277.4,507.4 1277.4,508.4 1277.4,509.4 1277.4,510.4 1277.4,511.4 1277.4,512.4 1277.4,513.4 1277.4,514.4 1277.5,515.4 1277.5,516.4 1277.5,517.4 1277.5,518.4 1277.5,519.4 1277.5,520.4 1277.5,521.4 1277.5,522.4 1277.6,523.4 1277.6,524.4 1277.6,525.4 1277.6,526.4 1277.6,527.4 1277.6,528.4 1277.6,529.4 1277.6,530.4 1277.7,531.4 1277.7,532.4 1277.7,533.4 1277.7,534.4 1277.7,535.4 1277.7,536.4 1277.7,537.4 1277.8,538.4 1277.8,539.4 1277.8,540.4 1277.8,541.4 1277.8,542.4 1277.8,543.4 1277.8,544.4 1277.8,545.4 1277.9,546.4 1277.9,547.4 1277.9,548.4 1277.9,549.4 1277.9,550.4 1277.9,551.4 1277.9,552.4 1277.9,553.4 1278,554.4 1278,555.4 1278,556.4 1278,557.4 1278,558.4 1278,559.4 1278,560.4 1278,561.4 1278.1,562.4 1278.1,563.4 1278.1,564.4 1278.1,565.4 1278.1,566.3 1278.1,567.3 1278.1,568.3 1278.1,569.3 1278.2,570.3 1278.2,571.3 1278.2,572.3 1278.2,573.3 1278.2,574.3 1278.2,575.3 1278.2,576.3 1278.2,577.3 1278.3,578.3 1278.3,579.3 1278.3,580.3 1278.3,581.3 1278.3,582.3 1278.3,583.3 1278.3,584.3 1278.3,585.3 1278.4,586.3 1278.4,587.3 1278.4,588.3 1278.4,589.3 1278.4,590.3 1278.4,591.3 1278.4,592.3 1278.4,593.3 1278.5,594.3 1278.5,595.3 1278.5,596.3 1278.5,597.3 1278.5,598.3 1278.6,599.3 1278.6,600.4 1278.7,601.4 1278.7,602.4 1278.7,603.5 1278.8,604.5 1278.8,605.5 1278.8,606.5 1278.9,607.5 1278.9,608.6 1278.9,609.6 1279,610.6 1279,611.7 1279.1,612.7 1279.1,613.7" fill="none" stroke="none" marker-start="url(#tri)" marker-mid="url(#tri)" marker-end="url(#tri)"/>
<polyline points="1295.7,640.2 1295.7,632.6 1295.7,625.2 1295.7,618 1295.7,611 1295.7,604.1 1295.7,597.4 1295.7,590.9 1295.7,584.6 1295.7,578.4 1295.7,572.4 1295.7,566.6 1295.7,560.9 1295.7,555.3 1295.7,549.9 1295.7,544.6 1295.7,539.5 1295.7,534.5 1295.7,529.6 1295.7,524.8 1295.7,520.2 1295.7,515.7 1295.7,511.3 1295.7,507 1295.7,502.8 1295.7,498.8 1295.7,494.8 1295.7,491 1295.7,487.2 1295.7,483.5 1295.7,480 1295.7,476.5 1295.7,473.1 1295.7,469.8 1295.7,466.6 1295.7,463.5 1295.7,461.5 1295.8,458.5 1295.8,455.6 1295.9,452.7 1295.9,449.8 1296,447 1296.1,444.3 1296.1,441.6 1296.2,438.9 1296.2,436.3 1296.3,433.7 1296.3,431.2 1296.4,428.7 1296.4,426.3 1296.5,423.9 1296.5,421.6 1296.6,419.3 1296.6,417 1296.7,414.8 1296.7,412.6 1296.8,410.4 1296.8,408.3 1296.9,406.2 1296.9,404.2 1296.9,402.2 1297,400.2 1297,398.2 1297.1,396.3 1297.1,394.5 1297.1,392.6 1297.2,390.8 1297.2,389 1297.3,387.3 1297.3,385.6 1297.3,383.9 1297.4,382.2 1297.4,380.6 1297.4,380.5 1297.4,379.3 1297.4,378.1 1297.5,376.9 1297.5,375.7 1297.5,374.5 1297.5,373.3 1297.5,372.1 1297.6,370.9 1297.6,369.7 1297.6,368.5 1297.6,367.3 1297.6,366.1 1297.6,364.9 1297.7,363.7 1297.7,362.5 1297.7,361.3 1297.7,360.1 1297.7,358.9 1297.8,357.7 1297.8,356.5 1297.8,355.3 1297.8,354.1 1297.8,352.9 1297.9,351.6 1297.9,350.4 1297.9,349.2 1297.9,348 1297.9,346.8 1298,345.6 1298,344.4 1298,343.2 1298,342 1298,340.8 1298.1,339.6 1298.1,338.4 1298.1,337.2 1298.1,336 1298.1,334.8 1298.1,333.6 1298.2,332.4 1298.2,331.2 1298.2,330 1298.2,328.8 1298.2,327.6 1298.3,326.4 1298.3,325.2 1298.3,324 1298.3,322.8 1298.3,321.6 1298.4,320.4 1298.4,319.2 1298.4,318 1298.4,316.8 1298.4,315.6 1298.4,314.4 1298.5,313.2 1298.5,312 1298.5,310.8 1298.5,309.6 1298.5,308.4 1298.6,307.1 1298.6,305.9 1298.6,304.7 1298.6,303.5 1298.6,302.3 1298.7,301.1 1298.7,299.9 1298.7,298.7 1298.7,297.5 1298.7,296.3 1298.7,295.1 1298.8,293.9 1298.8,292.7 1298.8,291.5 1298.8,290.3 1298.8,289.1 1298.8,287.9 1298.9,286.7 1298.9,285.5 1298.9,284.3 1298.9,283.1 1298.9,281.9 1298.9,280.7 1299,279.5 1299,278.3 1299,277.1 1299,275.9 1299,274.7 1299,273.5 1299.1,272.3 1299.1,271.1 1299.1,269.9 1299.1,268.7 1299.1,267.5 1299.1,266.3 1299.2,265.1 1299.2,263.9 1299.2,262.7 1299.2,261.5 1299.2,260.3 1299.3,259.1 1299.3,257.9 1299.4,256.7 1299.4,255.5 1299.4,254.3 1299.5,253.2 1299.5,252 1299.6,250.8 1299.6,249.6 1299.6,248.4 1299.7,247.2 1299.7,246 1299.8,244.8 1299.8,243.6 1299.8,242.4 1299.9,241.2 1299.9,240 1300,238.9 1300,237.7 1300.1,236.5 1300.1,235.3 1300.1,234.1 1300.2,232.9 1300.2,231.7 1300.3,230.5 1300.3,229.3 1300.3,228.1 1300.4,226.9 1300.4,225.7 1300.5,224.6 1300.5,223.4 1300.5,222.2 1300.6,221 1300.6,219.8 1300.7,218.6 1300.7,217.4 1300.8,216.2 1300.9,215 1301,213.8 1301.1,212.6 1301.2,211.3 1301.3,210.1 1301.4,208.9 1301.5,207.7 1301.6,206.5 1301.7,205.3 1301.8,204.1 1301.9,202.9 1302,201.7 1302,200.4 1302.1,199.2 1302.2,198 1302.3,196.8 1302.4,195.6 1302.5,194.4 1302.6,193.2 1302.7,192 1302.8,190.7 1302.9,189.5 1303,188.3 1303.1,187.1 1303.2,185.9 1303.4,184.7 1303.5,183.5 1303.7,182.4 1303.8,181.2 1304,180 1304.1,178.8 1304.3,177.6 1304.5,176.4 1304.6,175.3 1304.8,174.1 1304.9,172.9 1305.1,171.7 1305.2,170.5 1305.4,169.4 1305.5,168.2 1305.7,167 1306.1,165.9 1306.5,164.7 1306.8,163.6 1307.2,162.5 1307.6,161.3 1308,160.2 1308.4,159.1 1308.7,158 1309.1,156.8 1309.5,155.7 1310.4,155 1311.4,154.3 1312.3,153.6 1313.2,152.8 1314.2,152.1 1315.1,151.4 1316.1,150.7 1317,150 1318.1,149.8 1319.3,149.7 1320.4,149.6 1321.5,149.4 1322.7,149.2 1323.8,149.1" fill="none" stroke="none" marker-start="url(#tri)" marker-mid="url(#tri)" marker-end="url(#tri)"/>
<polyline points="1324.4,101.7 1325.4,101.5 1326.3,101.2 1327.3,101 1328.3,100.7 1329.2,100.5 1330.2,100.2 1331.1,100 1332.1,99.7 1333.1,99.5 1334,99.2 1335,99 1335.9,99 1336.9,99 1337.8,99 1338.8,99 1339.7,99 1340.7,99 1340.8,100 1340.9,101 1341.1,101.9 1341.2,102.9 1341.4,103.9 1341.5,104.9 1341.7,105.9 1341.8,106.8 1342,107.8 1342.1,108.8 1342.3,109.8 1342.4,110.8 1342.5,111.7 1342.7,112.7 1342.8,113.7 1343,114.7 1343.1,115.7 1343.3,116.6 1343.4,117.6 1343.6,118.6 1343.7,119.6 1343.9,120.6 1344,121.5 1344.2,122.5 1344.3,123.5 1345.1,124.3 1345.9,125.2 1346.8,125.5 1347.8,125.8 1348.7,126.1 1349.6,126.4 1350.5,126.7 1351.5,127 1352.4,127.3 1353.3,127.6 1354.2,127.9 1355.2,128.2 1356.1,128.5 1357,128.8 1357.6,129.4 1358.3,130.1 1358.9,130.7 1359.6,131.4 1360.2,132 1360.4,133 1360.7,133.9 1360.9,134.9 1361.2,135.9 1361.4,136.8 1361.6,137.8 1361.9,138.8 1362.1,139.8 1362.3,140.7 1362.6,141.7 1362.8,142.7 1363.1,143.6 1363.3,144.6 1364.2,145.1 1365.1,145.5 1366,146 1366.8,146.5 1367.7,146.9 1368.6,147.4 1369.5,147.9 1370.4,148.4 1371.3,148.8 1372.2,149.3" fill="none" stroke="none" marker-start="url(#tri)" marker-mid="url(#tri)" marker-end="url(#tri)"/>
</g>
<path d="M1288.5 667.5v7.6M1327.9 667.5v7.6M1367.3 667.5v7.6M1446.1 667.5v7.6M1485.5 667.5v7.6M1524.9 667.5v7.6M1603.7 667.5v7.6M1643.1 667.5v7.6M1682.5 667.5v7.6M1761.3 667.5v7.6M1800.7 667.5v7.6M1840.1 667.5v7.6M1918.9 667.5v7.6M1958.3 667.5v7.6M1997.7 667.5v7.6M1210.7 80.7h-7.6M1210.7 103.5h-7.6M1210.7 126.2h-7.6M1210.7 171.8h-7.6M1210.7 194.5h-7.6M1210.7 217.3h-7.6M1210.7 240h-7.6M1210.7 285.6h-7.6M1210.7 308.3h-7.6M1210.7 331.1h-7.6M1210.7 353.8h-7.6M1210.7 399.4h-7.6M1210.7 422.1h-7.6M1210.7 444.9h-7.6M1210.7 467.6h-7.6M1210.7 513.2h-7.6M1210.7 535.9h-7.6M1210.7 558.7h-7.6M1210.7 581.4h-7.6M1210.7 627h-7.6M1210.7 649.7h-7.6" fill="none" stroke="#000" stroke-width="2.3"/>
<path d="M1249.1 667.5v13.1M1406.7 667.5v13.1M1564.3 667.5v13.1M1721.9 667.5v13.1M1879.5 667.5v13.1M2037.1 667.5v13.1M1210.7 149h-13.1M1210.7 262.8h-13.1M1210.7 376.6h-13.1M1210.7 490.4h-13.1M1210.7 604.2h-13.1" fill="none" stroke="#000" stroke-width="3.0"/>
<rect x="1210.7" y="71.8" width="851.8" height="595.7" fill="none" stroke="#000" stroke-width="3.0"/>
<g font-size="38.5" text-anchor="end" letter-spacing="-0.25">
<text x="1183.1" y="161.8">0.0000</text>
<text x="1183.1" y="275.6">−0.0005</text>
<text x="1183.1" y="389.4">−0.0010</text>
<text x="1183.1" y="503.2">−0.0015</text>
<text x="1183.1" y="617">−0.0020</text>
</g>
<g font-size="38.5" text-anchor="middle">
<text x="1249.1" y="719.9">0</text>
<text x="1406.7" y="719.9">2</text>
<text x="1564.3" y="719.9">4</text>
<text x="1721.9" y="719.9">6</text>
<text x="1879.5" y="719.9">8</text>
<text x="2037.1" y="719.9">10</text>
</g>
</g>
<g id="axBL">
<path d="M208.9 1423.5V827.9M363.1 1423.5V827.9M517.4 1423.5V827.9M671.6 1423.5V827.9M825.9 1423.5V827.9M980.1 1423.5V827.9M171.4 1395.9H1005.3M171.4 1308.1H1005.3M171.4 1220.3H1005.3M171.4 1132.5H1005.3M171.4 1044.7H1005.3M171.4 956.9H1005.3M171.4 869.1H1005.3" fill="none" stroke="#e0e0e0" stroke-width="1.8" stroke-dasharray="7 2.9"/>
<g clip-path="url(#clipBL)">
<polyline points="208.9,1395.9 210.4,1395.9 211.9,1395.8 213.4,1395.7 214.9,1395.7 216.4,1395.6 217.9,1395.5 219.4,1395.5 220.9,1395.4 222.4,1395.3 222.7,1395.3 223.9,1395.2 225.4,1395.1 226.9,1395.1 228.3,1395 229.8,1394.9 231.3,1394.8 232.8,1394.7 234.3,1394.5 235.8,1394.4 237.3,1394.3 238.8,1394.2 240.3,1394.1 241.8,1393.9 243.3,1393.8 244.8,1393.6 246.3,1393.5 247.4,1393.4 247.8,1393.4 249.3,1393.2 250.8,1393.1 252.3,1392.9 253.8,1392.7 255.3,1392.6 256.8,1392.4 258.3,1392.2 259.8,1392 261.3,1391.8 262.8,1391.6 264.3,1391.4 265.7,1391.1 267.2,1390.9 268.7,1390.6 270.2,1390.4 270.7,1390.3 271.7,1390.1 273.2,1389.8 274.7,1389.5 276.2,1389.1 277.7,1388.7 279.2,1388.3 280.7,1387.9 282.2,1387.5 283.7,1387 285.2,1386.5 286.7,1386 288.2,1385.5 289.7,1384.9 290.8,1384.5 291.2,1384.4 292.7,1383.7 294.2,1383 295.7,1382.2 297.2,1381.4 298.7,1380.5 300.2,1379.6 301.6,1378.6 303.1,1377.6 304.6,1376.7 306.1,1375.7 307.6,1374.7 309.1,1373.8 309.4,1373.6 310.6,1372.8 312.1,1371.9 313.6,1370.9 315.1,1370 316.6,1369 318.1,1368 319.6,1367 321.1,1366 322.6,1365 324.1,1364 324.9,1363.5 325.6,1363.1 327.1,1362.1 328.6,1361.1 330.1,1360.1 331.6,1359.1 333.1,1358.1 334.6,1357.1 336.1,1356.1 337.6,1355.1 339,1354.1 340.5,1353.1 342,1352.1 343.5,1351.1 345,1350.2 346.5,1349.2 348,1348.2 349.5,1347.2 351,1346.2 352.5,1345.2 354,1344.2 355.5,1343.2 357,1342.3 358.5,1341.3 360,1340.3 361.5,1339.4 363,1338.4 363.6,1338 364.5,1337.4 366,1336.5 367.5,1335.6 369,1334.6 370.5,1333.7 372,1332.8 373.5,1331.9 375,1331 376.4,1330.1 377.9,1329.1 379.4,1328.2 380.9,1327.3 382.4,1326.4 383.9,1325.5 385.4,1324.6 386.9,1323.7 388.4,1322.8 389.9,1321.9 391.4,1321 392.9,1320 394.4,1319.1 395.9,1318.2 397.4,1317.2 398.9,1316.2 400.4,1315.3 401.9,1314.3 402.3,1314 403.4,1313.3 404.9,1312.3 406.4,1311.3 407.9,1310.4 409.4,1309.4 410.9,1308.4 412.3,1307.3 413.8,1306.2 415.3,1305.1 416.8,1303.9 417.8,1303.1 418.3,1302.6 419.8,1301.3 421.3,1299.9 422.8,1298.3 424.3,1296.7 425.8,1295.1 427.3,1293.4 428.8,1291.7 430.2,1290 430.3,1289.9 431.8,1288 433.3,1286.1 434.8,1284 436.3,1282 437.8,1279.8 439.3,1277.6 440.8,1275.4 442.3,1273.2 443.8,1270.9 445.3,1268.7 446.8,1266.5 448.3,1264.4 448.8,1263.6 449.7,1262.3 451.2,1260.2 452.7,1258.1 454.2,1256 455.7,1253.9 457.2,1251.8 458.7,1249.7 460.2,1247.6 461.7,1245.6 463.2,1243.5 464.3,1242 464.7,1241.4 466.2,1239.4 467.7,1237.4 469.2,1235.4 470.7,1233.3 472.2,1231.3 473.7,1229.3 475.2,1227.3 476.7,1225.3 478.2,1223.3 479.7,1221.4 481.2,1219.4 482.7,1217.4 484.2,1215.4 485.7,1213.4 487.1,1211.4 488.6,1209.4 489.7,1208 490.1,1207.4 491.6,1205.4 493.1,1203.4 494.6,1201.4 496.1,1199.4 497.6,1197.5 499.1,1195.5 500.6,1193.5 502.1,1191.5 503.6,1189.5 505.1,1187.5 506.6,1185.5 508.1,1183.5 509.6,1181.5 511.1,1179.5 512.6,1177.5 514.1,1175.5 515.6,1173.5 516.5,1172.2 517.1,1171.4 518.6,1169.4 520.1,1167.4 521.6,1165.3 523,1163.3 524.5,1161.2 526,1159.2 527.5,1157.1 529,1155.1 530.5,1153 532,1151 533.5,1148.9 535,1146.8 536.5,1144.8 538,1142.7 539.5,1140.6 541,1138.5 542.5,1136.4 544,1134.4 545.5,1132.3 547,1130.2 547.4,1129.6 548.5,1128.1 550,1126 551.5,1123.9 553,1121.7 554.5,1119.6 556,1117.5 557.5,1115.4 559,1113.2 560.4,1111.1 561.9,1109 563.4,1106.9 564.9,1104.8 566,1103.3 566.4,1102.7 567.9,1100.6 569.4,1098.5 570.9,1096.5 572.4,1094.4 573.9,1092.3 575.4,1090.3 576.9,1088.2 578.4,1086.2 579.9,1084.4 581.4,1082.6 582.9,1080.8 584.4,1079.1 585.9,1077.4 587.4,1075.7 587.7,1075.4 588.9,1074.1 590.4,1072.6 591.9,1071 593.4,1069.6 594.9,1068.1 596.4,1066.7 597,1066.1 597.9,1065.3 599.4,1064 600.9,1062.6 602.4,1061.4 603.9,1060.1 605.4,1058.9 606.9,1057.6 608.4,1056.4 609.9,1055.2 611.3,1053.9 612.8,1052.7 614.3,1051.5 615.8,1050.2 617.1,1049.1 617.3,1048.9 618.8,1047.6 620.3,1046.3 621.8,1044.9 623.3,1043.6 624.8,1042.3 626.3,1040.9 627.8,1039.6 629.3,1038.2 630.8,1036.9 632.3,1035.5 633.8,1034.1 635.3,1032.8 636.8,1031.4 638.3,1030.1 639.8,1028.7 640.4,1028.2 641.3,1027.4 642.8,1026 644.3,1024.7 645.8,1023.4 647.3,1022 648.8,1020.7 650.3,1019.4 651.8,1018 653.3,1016.7 654.8,1015.4 656.3,1014 657.8,1012.7 659.3,1011.4 660.8,1010 662.3,1008.7 663.8,1007.3 665.3,1005.9 666.8,1004.6 668.3,1003.2 669.8,1001.8 671.3,1000.4 671.4,1000.3 672.8,999 674.3,997.6 675.8,996.2 677.2,994.8 678.7,993.3 680.2,991.9 681.7,990.4 683.2,989 684.7,987.5 686.2,986.1 687.7,984.6 689.2,983.2 690.7,981.7 692.2,980.3 693,979.5 693.7,978.8 695.2,977.3 696.7,975.9 698.2,974.4 699.7,973 701.2,971.5 702.7,970.1 704.2,968.6 705.7,967.1 707.2,965.7 708.7,964.2 710.2,962.7 711.7,961.3 712.5,960.5 713.2,959.8 714.7,958.4 716.2,956.9 717.7,955.4 719.2,954 720.7,952.5 722.2,951 723.7,949.5 725.2,948.1 726.7,946.6 728.2,945.1 729.7,943.7 731.2,942.2 731.9,941.5 732.7,940.8 734.2,939.3 735.7,937.8 737.2,936.4 738.7,934.9 740.2,933.5 741.7,932 741.7,932 743.1,930.6 744.6,929.2 746.1,927.8 747.6,926.4 749.1,925.2 749.4,925 750.6,924.1 752.1,923 753.6,922 755.1,921.1 756.3,920.4 756.6,920.2 758.1,919.4 759.6,918.5 761.1,917.8 762.6,917 764.1,916.3 765.6,915.5 767.1,914.8 767.5,914.6 768.6,914.1 770.1,913.3 771.6,912.6 773.1,912 774.6,911.3 776.1,910.6 777.6,909.9 779.1,909.2 780.6,908.6 782.1,907.9 783.6,907.2 785.1,906.5 785.5,906.3 786.6,905.8 788.1,905.1 789.6,904.4 791.1,903.7 792.6,902.9 794.1,902.2 795.6,901.5 797.1,900.8 798.6,900.1 800.1,899.3 801.6,898.6 803.1,897.9 804.6,897.2 806.1,896.4 807.5,895.7 809,895 810.5,894.2 812,893.5 813.5,892.8 815,892.1 816.5,891.3 818,890.6 819.5,889.9 821,889.1 822.5,888.4 824,887.7 825.5,887 826.3,886.6 827,886.3 828.5,885.5 830,884.8 831.5,884.1 833,883.3 834.5,882.6 836,881.9 837.5,881.1 839,880.4 840.5,879.7 842,879 843.5,878.2 845,877.5 846.5,876.8 848,876.1 849.5,875.3 851,874.6 852.5,873.9 854,873.2 855.5,872.5 857,871.8 858.5,871.2 860,870.5 860.4,870.3 861.5,869.8 863,869.1 864.5,868.4 866,867.7 867.5,867 869,866.3 870.5,865.7 872,865 873.4,864.4 874.9,863.8 876.4,863.3 877.9,862.8 879,862.5 879.4,862.4 880.9,862 882.4,861.6 883.9,861.2 885.4,860.9 886.9,860.5 888.4,860.2 889.9,859.9 891.4,859.6 892.9,859.3 894.4,859.1 895.9,858.8 897.4,858.6 898.9,858.4 899.1,858.4 900.4,858.2 901.9,858.1 903.4,857.9 904.9,857.7 906.4,857.6 907.9,857.4 909.4,857.3 910.9,857.1 912.4,857 913.9,856.9 915.4,856.8 916.9,856.7 918.4,856.6 919.9,856.5 921.4,856.4 922.3,856.3 922.9,856.3 924.4,856.2 925.9,856.1 927.4,856 928.9,855.9 930.4,855.8 931.9,855.8 933.4,855.7 934.9,855.6 936.4,855.6 937.9,855.5 939.3,855.4 940.8,855.4 942.3,855.3 943.8,855.3 945.3,855.2 945.6,855.2 946.8,855.2 948.3,855.1 949.8,855.1 951.3,855 952.8,855 954.3,854.9 955.8,854.9 957.3,854.9 958.8,854.8 960.3,854.8 961.8,854.8 963.3,854.7 964.8,854.7 966.3,854.7 967.8,854.6 969.3,854.6 970.8,854.6" fill="none" stroke="#00f" stroke-width="7.5" stroke-linejoin="round"/>
<polyline points="209,1396.2 209.8,1395.7 210.7,1395.2 211.6,1394.6 212.4,1394.1 213.2,1393.6 214.1,1393.1 214.9,1392.6 215.8,1392 216.7,1391.5 217.5,1391 218,1390.1 218.5,1389.3 219,1388.4 219.5,1387.6 220,1386.7 220.5,1385.8 221,1385 221.5,1384.1 222,1383.2 222.5,1382.4 223,1381.5 223.5,1380.7 223.9,1379.8 224.4,1378.9 224.9,1378.1 225.4,1377.2 225.9,1376.4 226.4,1375.5 226.9,1374.6 227.4,1373.8 227.9,1372.9 228.4,1372 228.9,1371.2 229.4,1370.3 229.9,1369.5 230.4,1368.6 230.9,1367.7 231.4,1366.9 231.9,1366 232.4,1365.2 232.9,1364.3 233.4,1363.4 233.9,1362.6 234.4,1361.7 234.9,1360.8 235.4,1360 235.9,1359.1 236.4,1358.3 236.8,1357.4 237.2,1356.4 237.5,1355.5 237.8,1354.5 238.1,1353.5 238.5,1352.6 238.8,1351.6 239.1,1350.7 239.4,1349.7 239.7,1348.7 240.1,1347.8 240.4,1346.8 240.7,1345.8 241,1344.9 241.3,1343.9 241.7,1343 242,1342 242.3,1341 242.6,1340.1 242.9,1339.1 243.3,1338.1 243.6,1337.2 243.9,1336.2 244.2,1335.3 244.5,1334.3 244.9,1333.3 245.2,1332.4 245.5,1331.4 245.7,1330.4 245.9,1329.5 246.1,1328.5 246.3,1327.5 246.5,1326.6 246.7,1325.6 246.9,1324.6 247.1,1323.7 247.4,1322.7 247.6,1321.7 247.8,1320.8 248,1319.8 248.2,1318.8 248.4,1317.9 248.6,1316.9 248.8,1316 249,1315 249.2,1314 249.4,1313.1 249.6,1312.1 249.8,1311.1 250,1310.2 250.2,1309.2 250.4,1308.2 250.6,1307.3 250.8,1306.3 251.1,1305.3 251.3,1304.3 251.6,1303.4 251.8,1302.4 252.1,1301.4 252.3,1300.4 252.5,1299.4 252.8,1298.5 253,1297.5 253.3,1296.5 253.5,1295.5 253.8,1294.6 254,1293.6 254.2,1292.6 254.5,1291.6 254.7,1290.6 255,1289.7 255.2,1288.7 255.4,1287.7 255.9,1286.9 256.4,1286 256.9,1285.2 257.3,1284.3 257.8,1283.5 258.3,1282.6 258.7,1281.8 259.2,1280.9 259.7,1280.1 260.1,1279.2 260.6,1278.4 261.1,1277.5 261.6,1276.7 262,1275.8 262.5,1275 263.1,1274.2 263.7,1273.5 264.4,1272.7 265,1272 265.6,1271.2 266.2,1270.5 266.9,1269.7 267.5,1269 268.1,1268.2 268.7,1267.4 269.3,1266.7 270,1265.9 270.6,1265.2 271.2,1264.4 271.8,1263.7 272.4,1262.9 273.2,1262.2 273.9,1261.4 274.6,1260.7 275.3,1259.9 276,1259.2 276.8,1258.4 277.5,1257.7 278.2,1257 278.9,1256.2 279.6,1255.5 280.3,1254.7 281.1,1254 281.8,1253.2 282.5,1252.5 283.4,1252.2 284.4,1251.8 285.3,1251.5 286.2,1251.1 287.1,1250.8 288.1,1250.4 289,1250 289.9,1249.7 290.8,1249.3 291.8,1249 292.7,1248.7 293.6,1248.3 294.5,1248 295.4,1247.6 296.4,1247.2 297.3,1246.9 298.2,1246.5 299.1,1246.2 300.1,1245.8 301,1245.5 302,1245.3 303,1245.2 304,1245 305,1244.8 306,1244.7 307,1244.5 308,1244.3 309,1244.2 310,1244 311,1243.9 312,1243.7 313,1243.5 314,1243.4 315,1243.2 316,1243 317,1242.9 318,1242.7 319,1242.7 320,1242.6 321,1242.5 322,1242.5 323,1242.5 324,1242.4 325,1242.3 326,1242.3 327,1242.2 328,1242.2 329,1242.1 330,1242.1" fill="none" stroke="#f00" stroke-width="7.6" stroke-linejoin="round"/>
<polyline points="209,1396.2 209.8,1395.7 210.7,1395.2 211.6,1394.6 212.4,1394.1 213.2,1393.6 214.1,1393.1 214.9,1392.6 215.8,1392 216.7,1391.5 217.5,1391 218,1390.1 218.5,1389.3 219,1388.4 219.5,1387.6 220,1386.7 220.5,1385.8 221,1385 221.5,1384.1 222,1383.2 222.5,1382.4 223,1381.5 223.5,1380.7 223.9,1379.8 224.4,1378.9 224.9,1378.1 225.4,1377.2 225.9,1376.4 226.4,1375.5 226.9,1374.6 227.4,1373.8 227.9,1372.9 228.4,1372 228.9,1371.2 229.4,1370.3 229.9,1369.5 230.4,1368.6 230.9,1367.7 231.4,1366.9 231.9,1366 232.4,1365.2 232.9,1364.3 233.4,1363.4 233.9,1362.6 234.4,1361.7 234.9,1360.8 235.4,1360 235.9,1359.1 236.4,1358.3 236.8,1357.4 237.2,1356.4 237.5,1355.5 237.8,1354.5 238.1,1353.5 238.5,1352.6 238.8,1351.6 239.1,1350.7 239.4,1349.7 239.7,1348.7 240.1,1347.8 240.4,1346.8 240.7,1345.8 241,1344.9 241.3,1343.9 241.7,1343 242,1342 242.3,1341 242.6,1340.1 242.9,1339.1 243.3,1338.1 243.6,1337.2 243.9,1336.2 244.2,1335.3 244.5,1334.3 244.9,1333.3 245.2,1332.4 245.5,1331.4 245.7,1330.4 245.9,1329.5 246.1,1328.5 246.3,1327.5 246.5,1326.6 246.7,1325.6 246.9,1324.6 247.1,1323.7 247.4,1322.7 247.6,1321.7 247.8,1320.8 248,1319.8 248.2,1318.8 248.4,1317.9 248.6,1316.9 248.8,1316 249,1315 249.2,1314 249.4,1313.1 249.6,1312.1 249.8,1311.1 250,1310.2 250.2,1309.2 250.4,1308.2 250.6,1307.3 250.8,1306.3 251.1,1305.3 251.3,1304.3 251.6,1303.4 251.8,1302.4 252.1,1301.4 252.3,1300.4 252.5,1299.4 252.8,1298.5 253,1297.5 253.3,1296.5 253.5,1295.5 253.8,1294.6 254,1293.6 254.2,1292.6 254.5,1291.6 254.7,1290.6 255,1289.7 255.2,1288.7 255.4,1287.7 255.9,1286.9 256.4,1286 256.9,1285.2 257.3,1284.3 257.8,1283.5 258.3,1282.6 258.7,1281.8 259.2,1280.9 259.7,1280.1 260.1,1279.2 260.6,1278.4 261.1,1277.5 261.6,1276.7 262,1275.8 262.5,1275 263.1,1274.2 263.7,1273.5 264.4,1272.7 265,1272 265.6,1271.2 266.2,1270.5 266.9,1269.7 267.5,1269 268.1,1268.2 268.7,1267.4 269.3,1266.7 270,1265.9 270.6,1265.2 271.2,1264.4 271.8,1263.7 272.4,1262.9 273.2,1262.2 273.9,1261.4 274.6,1260.7 275.3,1259.9 276,1259.2 276.8,1258.4 277.5,1257.7 278.2,1257 278.9,1256.2 279.6,1255.5 280.3,1254.7 281.1,1254 281.8,1253.2 282.5,1252.5 283.4,1252.2 284.4,1251.8 285.3,1251.5 286.2,1251.1 287.1,1250.8 288.1,1250.4 289,1250 289.9,1249.7 290.8,1249.3 291.8,1249 292.7,1248.7 293.6,1248.3 294.5,1248 295.4,1247.6 296.4,1247.2 297.3,1246.9 298.2,1246.5 299.1,1246.2 300.1,1245.8 301,1245.5 302,1245.3 303,1245.2 304,1245 305,1244.8 306,1244.7 307,1244.5 308,1244.3 309,1244.2 310,1244 311,1243.9 312,1243.7 313,1243.5 314,1243.4 315,1243.2 316,1243 317,1242.9 318,1242.7 319,1242.7 320,1242.6 321,1242.5 322,1242.5 323,1242.5 324,1242.4 325,1242.3 326,1242.3 327,1242.2 328,1242.2 329,1242.1 330,1242.1" fill="none" stroke="none" marker-start="url(#tri)" marker-mid="url(#tri)" marker-end="url(#tri)"/>
</g>
<path d="M247.5 1423.5v7.6M286 1423.5v7.6M324.6 1423.5v7.6M401.7 1423.5v7.6M440.3 1423.5v7.6M478.8 1423.5v7.6M555.9 1423.5v7.6M594.5 1423.5v7.6M633.1 1423.5v7.6M710.2 1423.5v7.6M748.7 1423.5v7.6M787.3 1423.5v7.6M864.4 1423.5v7.6M903 1423.5v7.6M941.5 1423.5v7.6M171.4 1417.9h-7.6M171.4 1374h-7.6M171.4 1352h-7.6M171.4 1330.1h-7.6M171.4 1286.2h-7.6M171.4 1264.2h-7.6M171.4 1242.2h-7.6M171.4 1198.4h-7.6M171.4 1176.4h-7.6M171.4 1154.5h-7.6M171.4 1110.6h-7.6M171.4 1088.6h-7.6M171.4 1066.7h-7.6M171.4 1022.8h-7.6M171.4 1000.8h-7.6M171.4 978.9h-7.6M171.4 935h-7.6M171.4 913h-7.6M171.4 891.1h-7.6M171.4 847.2h-7.6" fill="none" stroke="#000" stroke-width="2.3"/>
<path d="M208.9 1423.5v13.1M363.1 1423.5v13.1M517.4 1423.5v13.1M671.6 1423.5v13.1M825.9 1423.5v13.1M980.1 1423.5v13.1M171.4 1395.9h-13.1M171.4 1308.1h-13.1M171.4 1220.3h-13.1M171.4 1132.5h-13.1M171.4 1044.7h-13.1M171.4 956.9h-13.1M171.4 869.1h-13.1" fill="none" stroke="#000" stroke-width="3.0"/>
<rect x="171.4" y="827.9" width="833.9" height="595.6" fill="none" stroke="#000" stroke-width="3.0"/>
<g font-size="38.5" text-anchor="end" letter-spacing="-0.25">
<text x="143.8" y="1408.7">0.0000</text>
<text x="143.8" y="1320.9">0.0002</text>
<text x="143.8" y="1233.1">0.0004</text>
<text x="143.8" y="1145.3">0.0006</text>
<text x="143.8" y="1057.5">0.0008</text>
<text x="143.8" y="969.7">0.0010</text>
<text x="143.8" y="881.9">0.0012</text>
</g>
<g font-size="38.5" text-anchor="middle">
<text x="208.9" y="1475.9">0</text>
<text x="363.1" y="1475.9">2</text>
<text x="517.4" y="1475.9">4</text>
<text x="671.6" y="1475.9">6</text>
<text x="825.9" y="1475.9">8</text>
<text x="980.1" y="1475.9">10</text>
</g>
</g>
<g id="axBR">
<path d="M1249.1 1423.5V827.9M1406.7 1423.5V827.9M1564.3 1423.5V827.9M1721.9 1423.5V827.9M1879.5 1423.5V827.9M2037.1 1423.5V827.9M1210.7 1395.9H2062.5M1210.7 1254.4H2062.5M1210.7 1112.9H2062.5M1210.7 971.4H2062.5M1210.7 829.9H2062.5" fill="none" stroke="#e0e0e0" stroke-width="1.8" stroke-dasharray="7 2.9"/>
<g clip-path="url(#clipBR)">
<polyline points="1249.1,1395.9 1250.6,1395.9 1252.2,1395.8 1253.7,1395.8 1255.2,1395.8 1256.7,1395.7 1258.3,1395.7 1259.8,1395.6 1261.3,1395.6 1262.9,1395.5 1263.2,1395.5 1264.4,1395.5 1265.9,1395.4 1267.4,1395.4 1269,1395.3 1270.5,1395.2 1272,1395.2 1273.6,1395.1 1275.1,1395 1276.6,1394.9 1278.1,1394.9 1279.7,1394.8 1281.2,1394.7 1282.7,1394.6 1284.3,1394.5 1285.8,1394.4 1287.3,1394.4 1288.4,1394.3 1288.8,1394.3 1290.4,1394.2 1291.9,1394.1 1293.4,1394 1295,1393.9 1296.5,1393.7 1298,1393.6 1299.5,1393.5 1301.1,1393.4 1302.6,1393.3 1304.1,1393.1 1305.7,1393 1307.2,1392.8 1308.7,1392.7 1310.2,1392.5 1311.8,1392.3 1312.2,1392.3 1313.3,1392.2 1314.8,1392 1316.4,1391.8 1317.9,1391.5 1319.4,1391.3 1320.9,1391 1322.5,1390.8 1324,1390.5 1325.5,1390.2 1327.1,1389.9 1328.6,1389.5 1330.1,1389.2 1331.6,1388.8 1332.8,1388.6 1333.2,1388.5 1334.7,1388 1336.2,1387.6 1337.8,1387.1 1339.3,1386.5 1340.8,1386 1342.3,1385.4 1343.9,1384.7 1345.4,1384.1 1346.9,1383.5 1348.5,1382.9 1350,1382.2 1351.5,1381.6 1351.8,1381.5 1353,1381 1354.6,1380.4 1356.1,1379.8 1357.6,1379.2 1359.2,1378.5 1360.7,1377.9 1362.2,1377.3 1363.7,1376.6 1365.3,1376 1366.8,1375.4 1367.6,1375 1368.3,1374.7 1369.9,1374.1 1371.4,1373.5 1372.9,1372.8 1374.4,1372.2 1376,1371.5 1377.5,1370.9 1379,1370.3 1380.6,1369.6 1382.1,1369 1383.6,1368.3 1385.1,1367.7 1386.7,1367.1 1388.2,1366.4 1389.7,1365.8 1391.3,1365.1 1392.8,1364.5 1394.3,1363.9 1395.8,1363.2 1397.4,1362.6 1398.9,1362 1400.4,1361.3 1402,1360.7 1403.5,1360.1 1405,1359.5 1406.5,1358.8 1407.2,1358.6 1408.1,1358.2 1409.6,1357.6 1411.1,1357 1412.7,1356.4 1414.2,1355.8 1415.7,1355.2 1417.2,1354.6 1418.8,1354 1420.3,1353.5 1421.8,1352.9 1423.4,1352.3 1424.9,1351.7 1426.4,1351.1 1427.9,1350.5 1429.5,1350 1431,1349.4 1432.5,1348.8 1434.1,1348.2 1435.6,1347.6 1437.1,1347 1438.6,1346.4 1440.2,1345.8 1441.7,1345.2 1443.2,1344.6 1444.8,1343.9 1446.3,1343.3 1446.7,1343.1 1447.8,1342.7 1449.3,1342 1450.9,1341.4 1452.4,1340.8 1453.9,1340.1 1455.5,1339.5 1457,1338.8 1458.5,1338.1 1460,1337.4 1461.6,1336.6 1462.6,1336.1 1463.1,1335.8 1464.6,1334.9 1466.2,1334 1467.7,1333 1469.2,1332 1470.7,1330.9 1472.3,1329.8 1473.8,1328.7 1475.2,1327.6 1475.3,1327.6 1476.9,1326.4 1478.4,1325.1 1479.9,1323.8 1481.4,1322.4 1483,1321.1 1484.5,1319.7 1486,1318.2 1487.6,1316.8 1489.1,1315.3 1490.6,1313.9 1492.1,1312.5 1493.7,1311.1 1494.2,1310.6 1495.2,1309.8 1496.7,1308.4 1498.3,1307.1 1499.8,1305.7 1501.3,1304.3 1502.8,1303 1504.4,1301.7 1505.9,1300.3 1507.4,1299 1509,1297.7 1510.1,1296.7 1510.5,1296.3 1512,1295 1513.5,1293.7 1515.1,1292.4 1516.6,1291.1 1518.1,1289.8 1519.7,1288.5 1521.2,1287.2 1522.7,1286 1524.2,1284.7 1525.8,1283.4 1527.3,1282.1 1528.8,1280.8 1530.4,1279.5 1531.9,1278.3 1533.4,1277 1534.9,1275.7 1536,1274.8 1536.5,1274.4 1538,1273.1 1539.5,1271.8 1541.1,1270.5 1542.6,1269.3 1544.1,1268 1545.6,1266.7 1547.2,1265.4 1548.7,1264.1 1550.2,1262.9 1551.8,1261.6 1553.3,1260.3 1554.8,1259 1556.3,1257.7 1557.9,1256.4 1559.4,1255.1 1560.9,1253.8 1562.5,1252.5 1563.4,1251.7 1564,1251.2 1565.5,1249.9 1567,1248.6 1568.6,1247.3 1570.1,1246 1571.6,1244.6 1573.2,1243.3 1574.7,1242 1576.2,1240.7 1577.7,1239.3 1579.3,1238 1580.8,1236.7 1582.3,1235.3 1583.9,1234 1585.4,1232.7 1586.9,1231.3 1588.4,1230 1590,1228.7 1591.5,1227.3 1593,1226 1594.5,1224.6 1595,1224.2 1596.1,1223.3 1597.6,1221.9 1599.1,1220.5 1600.7,1219.2 1602.2,1217.8 1603.7,1216.4 1605.2,1215.1 1606.8,1213.7 1608.3,1212.3 1609.8,1211 1611.4,1209.6 1612.9,1208.2 1614,1207.3 1614.4,1206.9 1615.9,1205.6 1617.5,1204.2 1619,1202.9 1620.5,1201.6 1622.1,1200.2 1623.6,1198.9 1627.5,1197.3 1630.5,1195.8 1645.2,1195.5 1646.7,1196.4 1648.2,1197.3 1649.7,1198.2 1651.2,1199.1 1652.7,1200.1 1654.2,1201 1655.7,1201.9 1657.2,1202.8 1658.7,1203.7 1660.2,1204.6 1661.7,1205.5 1663.2,1206.4 1664.7,1207.3 1666.2,1208.2 1667.7,1209.2 1669.2,1210.1 1670.7,1211 1672.2,1211.9 1673.7,1212.8 1675.2,1213.7 1676.7,1214.6 1678.2,1215.5 1679.7,1216.4 1681.2,1217.3 1682.7,1218.2 1684.2,1219.1 1685.7,1220.1 1687.2,1221 1688.7,1221.9 1690.2,1222.8 1690.2,1222.8 1691.7,1223.7 1693.2,1224.6 1694.7,1225.5 1696.2,1226.4 1697.7,1227.3 1699.2,1228.2 1700.7,1229.1 1702.2,1230 1703.7,1230.9 1705.2,1231.8 1706.7,1232.8 1708.2,1233.7 1709.6,1234.6 1711.1,1235.5 1712.6,1236.4 1714.1,1237.3 1715.6,1238.2 1717.1,1239.1 1718.6,1240 1720.1,1240.9 1721.6,1241.8 1723.1,1242.7 1724.6,1243.6 1726.1,1244.5 1727.6,1245.4 1729.1,1246.3 1730.6,1247.2 1732.1,1248.1 1733.6,1249 1735.1,1249.9 1736.6,1250.8 1738.1,1251.7 1739.6,1252.6 1741.1,1253.5 1742.6,1254.4 1744.1,1255.3 1744.4,1255.5 1745.6,1256.2 1747.1,1257.1 1748.6,1258 1750.1,1258.9 1751.6,1259.8 1753.1,1260.7 1754.6,1261.6 1756.1,1262.5 1757.6,1263.4 1759.1,1264.3 1760.6,1265.2 1762.1,1266.1 1763.6,1267 1765.1,1267.9 1766.6,1268.8 1768.1,1269.7 1769.6,1270.6 1771.1,1271.5 1772.6,1272.3 1774.1,1273.2 1775.6,1274.1 1777.1,1275 1778.6,1275.9 1780.1,1276.7 1780.4,1276.9 1781.6,1277.6 1783.1,1278.5 1784.6,1279.4 1786.1,1280.3 1787.6,1281.2 1789.1,1282 1790.6,1282.9 1792.1,1283.7 1793.6,1284.6 1795.1,1285.3 1796.2,1285.9 1796.6,1286.1 1798.1,1286.8 1799.6,1287.5 1801.1,1288.2 1802.6,1288.9 1804.1,1289.6 1805.6,1290.2 1807.1,1290.7 1807.5,1290.9 1808.6,1291.3 1810.1,1291.8 1811.6,1292.2 1813.1,1292.7 1814.6,1293.1 1816.1,1293.5 1817.6,1293.9 1819.1,1294.3 1820.6,1294.7 1822.1,1295.1 1823.6,1295.5 1825.1,1295.9 1825.6,1296.1 1826.6,1296.4 1828.1,1296.8 1829.6,1297.2 1831.1,1297.7 1832.6,1298.1 1834.1,1298.5 1835.6,1299 1837,1299.4 1838.5,1299.9 1840,1300.3 1841.5,1300.7 1843,1301.2 1844.5,1301.6 1846,1302 1847.5,1302.5 1849,1302.9 1850.5,1303.3 1852,1303.8 1853.5,1304.2 1855,1304.7 1856.5,1305.1 1858,1305.5 1859.5,1306 1861,1306.4 1862.5,1306.8 1864,1307.3 1865.5,1307.7 1867,1308.2 1868.5,1308.6 1870,1309 1871.5,1309.5 1873,1309.9 1874.5,1310.4 1876,1310.8 1877.5,1311.3 1879,1311.7 1879.7,1311.9 1880.5,1312.1 1882,1312.6 1883.5,1313 1885,1313.5 1886.5,1314 1888,1314.4 1889.5,1314.9 1891,1315.3 1892.5,1315.8 1894,1316.3 1895.5,1316.7 1897,1317.2 1898.5,1317.6 1900,1318.1 1901.5,1318.6 1903,1319 1904.5,1319.5 1906,1319.9 1907.5,1320.4 1909,1320.8 1910.5,1321.2 1912,1321.6 1913.5,1322.1 1915,1322.5 1915.8,1322.7 1916.5,1322.9 1918,1323.3 1919.5,1323.7 1921,1324.1 1922.5,1324.5 1924,1324.9 1925.5,1325.3 1927,1325.7 1928.5,1326.1 1930,1326.5 1931.5,1326.9 1933,1327.2 1934.5,1327.5 1936,1327.9 1937.5,1328.1 1938.3,1328.3 1939,1328.4 1940.5,1328.7 1942,1329 1943.5,1329.2 1945,1329.5 1946.5,1329.7 1948,1330 1949.5,1330.2 1951,1330.4 1952.5,1330.6 1954,1330.8 1955.5,1331 1957,1331.1 1958.5,1331.3 1960,1331.4 1960.9,1331.5 1961.5,1331.5 1963,1331.6 1964.4,1331.8 1965.9,1331.9 1967.4,1331.9 1968.9,1332 1970.4,1332.1 1971.9,1332.2 1973.4,1332.3 1974.9,1332.4 1976.4,1332.5 1977.9,1332.5 1979.4,1332.6 1980.9,1332.7 1982.4,1332.7 1983.9,1332.8 1985.4,1332.8 1986.9,1332.9 1988.4,1332.9 1989.9,1333 1991.4,1333 1992.9,1333.1 1994.4,1333.1 1994.7,1333.1 1995.9,1333.1 1997.4,1333.2 1998.9,1333.2 2000.4,1333.2 2001.9,1333.2 2003.4,1333.3 2004.9,1333.3 2006.4,1333.3 2007.9,1333.3 2009.4,1333.4 2010.9,1333.4 2012.4,1333.4 2013.9,1333.4 2015.4,1333.4 2016.9,1333.4 2018.4,1333.5 2019.9,1333.5 2021.4,1333.5 2022.9,1333.5 2024.4,1333.5 2025.9,1333.5 2027.4,1333.5" fill="none" stroke="#00f" stroke-width="7.5" stroke-linejoin="round"/>
<polyline points="1249.5,1396 1249.9,1395.1 1250.3,1394.2 1250.7,1393.2 1251.1,1392.3 1251.5,1391.4 1251.8,1390.5 1252.2,1389.5 1252.6,1388.6 1253,1387.7 1253.4,1386.8 1253.8,1385.8 1254.1,1384.9 1254.5,1384 1254.9,1383.1 1255.3,1382.1 1255.7,1381.2 1256,1380.3 1256.2,1379.3 1256.4,1378.3 1256.6,1377.3 1256.7,1376.3 1256.9,1375.3 1257.1,1374.3 1257.2,1373.3 1257.4,1372.3 1257.6,1371.3 1257.7,1370.3 1257.9,1369.3 1258.1,1368.3 1258.2,1367.2 1258.4,1366.2 1258.6,1365.2 1258.8,1364.2 1258.9,1363.2 1259.1,1362.2 1259.3,1361.2 1259.4,1360.2 1259.6,1359.2 1259.8,1358.2 1259.9,1357.2 1260.1,1356.2 1260.3,1355.2 1260.5,1354.2 1260.6,1353.2 1260.7,1352.2 1260.8,1351.2 1260.9,1350.2 1261,1349.2 1261.1,1348.2 1261.2,1347.2 1261.3,1346.2 1261.4,1345.2 1261.6,1344.1 1261.7,1343.1 1261.8,1342.1 1261.9,1341.1 1262,1340.1 1262.1,1339.1 1262.2,1338.1 1262.3,1337.1 1262.4,1336.1 1262.5,1335.1 1262.7,1334.1 1262.8,1333.1 1262.9,1332.1 1263,1331.1 1263.1,1330.1 1263.2,1329.1 1263.3,1328.1 1263.4,1327.1 1263.5,1326.1 1263.6,1325.1 1263.8,1324 1263.9,1323 1264,1322 1264.1,1321 1264.2,1320 1264.3,1319 1264.4,1318 1264.5,1317 1264.6,1316 1264.8,1315 1264.9,1314 1265,1313 1265.1,1312 1265.2,1311.1 1265.3,1310.1 1265.4,1309.1 1265.5,1308.1 1265.6,1307.1 1265.7,1306.1 1265.8,1305.1 1265.9,1304.2 1266,1303.2 1266.1,1302.2 1266.2,1301.2 1266.3,1300.2 1266.4,1299.2 1266.5,1298.2 1266.6,1297.3 1266.7,1296.3 1266.8,1295.3 1266.9,1294.3 1267,1293.3 1267.1,1292.3 1267.2,1291.3 1267.3,1290.4 1267.4,1289.4 1267.5,1288.4 1267.7,1287.4 1267.8,1286.4 1267.9,1285.4 1268,1284.4 1268.1,1283.5 1268.2,1282.5 1268.3,1281.5 1268.4,1280.5 1268.5,1279.5 1268.6,1278.5 1268.7,1277.5 1268.8,1276.6 1268.9,1275.6 1269,1274.6 1269.1,1273.6 1269.2,1272.6 1269.3,1271.6 1269.4,1270.6 1269.5,1269.7 1269.6,1268.7 1269.7,1267.7 1269.8,1266.7 1269.9,1265.7 1270,1264.7 1270.1,1263.7 1270.2,1262.8 1270.3,1261.8 1270.4,1260.8 1270.5,1259.8 1270.7,1258.8 1270.8,1257.8 1270.9,1256.8 1271,1255.8 1271.1,1254.8 1271.2,1253.8 1271.3,1252.8 1271.5,1251.8 1271.6,1250.8 1271.7,1249.8 1271.8,1248.8 1271.9,1247.8 1272,1246.8 1272.1,1245.8 1272.3,1244.8 1272.4,1243.8 1272.5,1242.8 1272.6,1241.8 1272.7,1240.8 1272.8,1239.8 1272.9,1238.8 1273.1,1237.8 1273.2,1236.8 1273.3,1235.8 1273.4,1234.8 1273.5,1233.8 1273.6,1232.8 1273.7,1231.8 1273.8,1230.8 1274,1229.7 1274.1,1228.7 1274.2,1227.7 1274.3,1226.7 1274.4,1225.7 1274.5,1224.7 1274.6,1223.7 1274.8,1222.7 1274.9,1221.7 1275,1220.7 1275.1,1219.7 1275.2,1218.7 1275.3,1217.7 1275.4,1216.7 1275.6,1215.7 1275.7,1214.7 1275.8,1213.7 1275.9,1212.7 1276,1211.7 1276.1,1210.7 1276.2,1209.7 1276.4,1208.7 1276.5,1207.7 1276.6,1206.7 1276.7,1205.7 1276.8,1204.7 1276.9,1203.7 1277,1202.7 1277.2,1201.7 1277.2,1200.7 1277.3,1199.7 1277.4,1198.7 1277.4,1197.7 1277.5,1196.7 1277.6,1195.7 1277.6,1194.7 1277.7,1193.7 1277.8,1192.7 1277.8,1191.7 1277.9,1190.7 1278,1189.7 1278,1188.8 1278.1,1187.8 1278.2,1186.8 1278.3,1185.8 1278.3,1184.8 1278.4,1183.8 1278.5,1182.8 1278.5,1181.8 1278.6,1180.8 1278.7,1179.8 1278.7,1178.8 1278.8,1177.8 1278.9,1176.8 1278.9,1175.8 1279,1174.8 1279.1,1173.8 1279.1,1172.8 1279.2,1171.8 1279.3,1170.8 1279.4,1169.8 1279.4,1168.8 1279.5,1167.8 1279.6,1166.8 1279.6,1165.8 1279.7,1164.8 1279.8,1163.8 1279.8,1162.9 1279.9,1161.9 1280,1160.9 1280,1159.9 1280.1,1158.9 1280.2,1157.9 1280.2,1156.9 1280.3,1155.9 1280.4,1154.9 1280.5,1153.9 1280.5,1152.9 1280.6,1151.9 1280.7,1150.9 1280.7,1149.9 1280.8,1148.9 1280.9,1147.9 1280.9,1146.9 1281,1145.9 1281.1,1144.9 1281.1,1143.9 1281.2,1142.9 1281.3,1141.9 1281.3,1140.9 1281.4,1139.9 1281.5,1138.9 1281.6,1137.9 1281.6,1137 1281.7,1136 1281.8,1135 1281.8,1134 1281.9,1133 1282,1132 1282,1131 1282.1,1130 1282.2,1129 1282.2,1128 1282.3,1127 1282.4,1126 1282.5,1125 1282.5,1124 1282.6,1123 1282.6,1122 1282.7,1121 1282.7,1120 1282.8,1119 1282.8,1118 1282.9,1117 1282.9,1116 1283,1115.1 1283,1114.1 1283.1,1113.1 1283.2,1112.1 1283.2,1111.1 1283.3,1110.1 1283.3,1109.1 1283.4,1108.1 1283.4,1107.1 1283.5,1106.1 1283.5,1105.1 1283.6,1104.1 1283.6,1103.1 1283.7,1102.1 1283.8,1101.1 1283.8,1100.1 1283.9,1099.1 1283.9,1098.1 1284,1097.1 1284,1096.2 1284.1,1095.2 1284.1,1094.2 1284.2,1093.2 1284.2,1092.2 1284.3,1091.2 1284.4,1090.2 1284.4,1089.2 1284.5,1088.2 1284.5,1087.2 1284.6,1086.2 1284.6,1085.2 1284.7,1084.2 1284.7,1083.2 1284.8,1082.2 1284.8,1081.2 1284.9,1080.2 1285,1079.2 1285,1078.2 1285.1,1077.3 1285.1,1076.3 1285.2,1075.3 1285.2,1074.3 1285.3,1073.3 1285.3,1072.3 1285.4,1071.3 1285.4,1070.3 1285.5,1069.3 1285.5,1068.3 1285.6,1067.3 1285.7,1066.3 1285.8,1065.3 1285.9,1064.3 1285.9,1063.3 1286,1062.3 1286.1,1061.3 1286.2,1060.4 1286.2,1059.4 1286.3,1058.4 1286.4,1057.4 1286.5,1056.4 1286.6,1055.4 1286.6,1054.4 1286.7,1053.4 1286.8,1052.4 1286.9,1051.4 1286.9,1050.4 1287,1049.4 1287.1,1048.4 1287.2,1047.4 1287.2,1046.5 1287.3,1045.5 1287.4,1044.5 1287.5,1043.5 1287.6,1042.5 1287.6,1041.5 1287.7,1040.5 1287.8,1039.5 1287.9,1038.5 1287.9,1037.5 1288,1036.5 1288.1,1035.5 1288.2,1034.5 1288.3,1033.5 1288.3,1032.6 1288.4,1031.6 1288.5,1030.6 1288.6,1029.6 1288.6,1028.6 1288.7,1027.6 1288.8,1026.6 1288.9,1025.6 1288.9,1024.6 1289,1023.6 1289.1,1022.6 1289.2,1021.6 1289.3,1020.6 1289.3,1019.6 1289.4,1018.7 1289.5,1017.7 1289.6,1016.7 1289.6,1015.7 1289.7,1014.7 1289.8,1013.7 1289.9,1012.7 1290,1011.7 1290,1010.7 1290.1,1009.7 1290.1,1008.7 1290.2,1007.7 1290.2,1006.7 1290.3,1005.7 1290.4,1004.7 1290.4,1003.7 1290.5,1002.7 1290.5,1001.7 1290.6,1000.7 1290.7,999.7 1290.7,998.7 1290.8,997.7 1290.8,996.7 1290.9,995.7 1291,994.7 1291,993.7 1291.1,992.7 1291.1,991.7 1291.2,990.7 1291.3,989.7 1291.3,988.7 1291.4,987.7 1291.4,986.7 1291.5,985.7 1291.6,984.7 1291.6,983.6 1291.7,982.6 1291.7,981.6 1291.8,980.6 1291.8,979.6 1291.9,978.6 1292,977.6 1292,976.6 1292.1,975.6 1292.1,974.6 1292.2,973.6 1292.3,972.6 1292.3,971.6 1292.4,970.6 1292.4,969.6 1292.5,968.6 1292.6,967.6 1292.6,966.6 1292.7,965.6 1292.7,964.6 1292.8,963.6 1292.9,962.6 1292.9,961.6 1293,960.6 1293,959.6 1293.1,958.6 1293.2,957.6 1293.2,956.6 1293.2,955.6 1293.3,954.6 1293.4,953.6 1293.4,952.6 1293.5,951.6 1293.5,950.5 1293.6,949.5 1293.6,948.5 1293.7,947.5 1293.7,946.5 1293.8,945.5 1293.8,944.5 1293.9,943.5 1293.9,942.5 1294,941.5 1294,940.5 1294.1,939.5 1294.1,938.4 1294.2,937.4 1294.2,936.4 1294.2,935.4 1294.3,934.4 1294.4,933.4 1294.4,932.4 1294.5,931.4 1294.5,930.4 1294.6,929.4 1294.6,928.4 1294.7,927.4 1294.7,926.4 1294.8,925.3 1294.8,924.3 1294.9,923.3 1294.9,922.3 1295,921.3 1295,920.3 1295.1,919.3 1295.1,918.3 1295.2,917.3 1295.2,916.3 1295.2,915.3 1295.3,914.3 1295.4,913.2 1295.4,912.2 1295.5,911.2 1295.5,910.2 1295.6,909.2 1295.6,908.2 1295.7,907.2 1295.7,906.2 1295.8,905.2 1295.9,904.2 1296,903.2 1296,902.2 1296.1,901.2 1296.2,900.1 1296.3,899.1 1296.3,898.1 1296.4,897.1 1296.5,896.1 1296.6,895.1 1296.6,894.1 1296.7,893.1 1296.8,892.1 1296.9,891.1 1296.9,890.1 1297,889.1 1297.1,888 1297.2,887 1297.2,886 1297.3,885 1297.4,884 1297.5,883 1297.5,882 1297.7,881 1297.9,880.1 1298.1,879.1 1298.3,878.2 1298.5,877.2 1298.6,876.2 1298.8,875.3 1299,874.3 1299.2,873.4 1299.4,872.4 1299.6,871.5 1299.7,870.5 1299.9,869.5 1300.1,868.6 1300.3,867.6 1300.5,866.7 1300.7,865.7 1301.2,864.9 1301.7,864.1 1302.2,863.2 1302.7,862.4 1303.2,861.6 1303.7,860.8 1304.2,860 1304.7,859.1 1305.2,858.3 1305.8,857.5 1306.8,857.2 1307.8,856.9 1308.8,856.6 1309.8,856.3 1310.8,856 1311.8,855.8 1312.8,855.5 1313.8,855.2 1314.8,854.9 1315.8,854.6 1316.8,854.6 1317.8,854.6 1318.8,854.6 1319.8,854.6 1320.8,854.6 1321.9,854.6 1322.9,854.6 1323.9,854.6 1324.4,855.5 1324.9,856.3 1325.4,857.2 1325.9,858.1 1326.4,859 1326.9,859.8 1327.3,860.7 1327.8,861.6 1328.3,862.4 1328.8,863.3 1329.3,864.2 1329.8,865 1330.3,865.9 1330.8,866.8 1331.3,867.7 1331.8,868.5 1332.3,869.4 1332.8,870.3 1333.2,871.1 1333.7,872 1334.2,872.9 1334.7,873.7 1335.2,874.6 1335.7,875.5 1336.2,876.4 1336.7,877.2 1337.2,878.1 1337.7,879 1338.2,879.8 1338.7,880.7 1339.1,881.6 1339.6,882.4 1340.1,883.3 1340.6,884.2 1341.1,885.1 1341.6,885.9 1342.1,886.8 1342.8,887.4 1343.6,888 1344.3,888.7 1345.1,889.3 1345.8,889.9 1346.5,890.5 1347.3,891.2 1348,891.8 1348.8,892.4 1349.5,893 1350.3,893.7 1351,894.3 1351.9,894.9 1352.7,895.4 1353.6,896 1354.4,896.6 1355.3,897.1 1356.1,897.7 1357,898.2 1357.9,898.8 1358.7,899.4 1359.6,899.9 1360.4,900.5 1361.3,901.1 1362.1,901.6 1363,902.2 1364,902.3 1364.9,902.4 1365.8,902.5 1366.8,902.6 1367.8,902.7 1368.7,902.8 1369.7,902.9 1370.6,903 1371.5,903.1 1372.5,903.2" fill="none" stroke="#f00" stroke-width="7.6" stroke-linejoin="round"/>
<polyline points="1249.5,1396 1249.9,1395.1 1250.3,1394.2 1250.7,1393.2 1251.1,1392.3 1251.5,1391.4 1251.8,1390.5 1252.2,1389.5 1252.6,1388.6 1253,1387.7 1253.4,1386.8 1253.8,1385.8 1254.1,1384.9 1254.5,1384 1254.9,1383.1 1255.3,1382.1 1255.7,1381.2 1256,1380.3 1256.2,1379.3 1256.4,1378.3 1256.6,1377.3 1256.7,1376.3 1256.9,1375.3 1257.1,1374.3 1257.2,1373.3 1257.4,1372.3 1257.6,1371.3 1257.7,1370.3 1257.9,1369.3 1258.1,1368.3 1258.2,1367.2 1258.4,1366.2 1258.6,1365.2 1258.8,1364.2 1258.9,1363.2 1259.1,1362.2 1259.3,1361.2 1259.4,1360.2 1259.6,1359.2 1259.8,1358.2 1259.9,1357.2 1260.1,1356.2 1260.3,1355.2 1260.5,1354.2 1260.6,1353.2 1260.7,1352.2 1260.8,1351.2 1260.9,1350.2 1261,1349.2 1261.1,1348.2 1261.2,1347.2 1261.3,1346.2 1261.4,1345.2 1261.6,1344.1 1261.7,1343.1 1261.8,1342.1 1261.9,1341.1 1262,1340.1 1262.1,1339.1 1262.2,1338.1 1262.3,1337.1 1262.4,1336.1 1262.5,1335.1 1262.7,1334.1 1262.8,1333.1 1262.9,1332.1 1263,1331.1 1263.1,1330.1 1263.2,1329.1 1263.3,1328.1 1263.4,1327.1 1263.5,1326.1 1263.6,1325.1 1263.8,1324 1263.9,1323 1264,1322 1264.1,1321 1264.2,1320 1264.3,1319 1264.4,1318 1264.5,1317 1264.6,1316 1264.8,1315 1264.9,1314 1265,1313 1265.1,1312 1265.2,1311.1 1265.3,1310.1 1265.4,1309.1 1265.5,1308.1 1265.6,1307.1 1265.7,1306.1 1265.8,1305.1 1265.9,1304.2 1266,1303.2 1266.1,1302.2 1266.2,1301.2 1266.3,1300.2 1266.4,1299.2 1266.5,1298.2 1266.6,1297.3 1266.7,1296.3 1266.8,1295.3 1266.9,1294.3 1267,1293.3 1267.1,1292.3 1267.2,1291.3 1267.3,1290.4 1267.4,1289.4 1267.5,1288.4 1267.7,1287.4 1267.8,1286.4 1267.9,1285.4 1268,1284.4 1268.1,1283.5 1268.2,1282.5 1268.3,1281.5 1268.4,1280.5 1268.5,1279.5 1268.6,1278.5 1268.7,1277.5 1268.8,1276.6 1268.9,1275.6 1269,1274.6 1269.1,1273.6 1269.2,1272.6 1269.3,1271.6 1269.4,1270.6 1269.5,1269.7 1269.6,1268.7 1269.7,1267.7 1269.8,1266.7 1269.9,1265.7 1270,1264.7 1270.1,1263.7 1270.2,1262.8 1270.3,1261.8 1270.4,1260.8 1270.5,1259.8 1270.7,1258.8 1270.8,1257.8 1270.9,1256.8 1271,1255.8 1271.1,1254.8 1271.2,1253.8 1271.3,1252.8 1271.5,1251.8 1271.6,1250.8 1271.7,1249.8 1271.8,1248.8 1271.9,1247.8 1272,1246.8 1272.1,1245.8 1272.3,1244.8 1272.4,1243.8 1272.5,1242.8 1272.6,1241.8 1272.7,1240.8 1272.8,1239.8 1272.9,1238.8 1273.1,1237.8 1273.2,1236.8 1273.3,1235.8 1273.4,1234.8 1273.5,1233.8 1273.6,1232.8 1273.7,1231.8 1273.8,1230.8 1274,1229.7 1274.1,1228.7 1274.2,1227.7 1274.3,1226.7 1274.4,1225.7 1274.5,1224.7 1274.6,1223.7 1274.8,1222.7 1274.9,1221.7 1275,1220.7 1275.1,1219.7 1275.2,1218.7 1275.3,1217.7 1275.4,1216.7 1275.6,1215.7 1275.7,1214.7 1275.8,1213.7 1275.9,1212.7 1276,1211.7 1276.1,1210.7 1276.2,1209.7 1276.4,1208.7 1276.5,1207.7 1276.6,1206.7 1276.7,1205.7 1276.8,1204.7 1276.9,1203.7 1277,1202.7 1277.2,1201.7 1277.2,1200.7 1277.3,1199.7 1277.4,1198.7 1277.4,1197.7 1277.5,1196.7 1277.6,1195.7 1277.6,1194.7 1277.7,1193.7 1277.8,1192.7 1277.8,1191.7 1277.9,1190.7 1278,1189.7 1278,1188.8 1278.1,1187.8 1278.2,1186.8 1278.3,1185.8 1278.3,1184.8 1278.4,1183.8 1278.5,1182.8 1278.5,1181.8 1278.6,1180.8 1278.7,1179.8 1278.7,1178.8 1278.8,1177.8 1278.9,1176.8 1278.9,1175.8 1279,1174.8 1279.1,1173.8 1279.1,1172.8 1279.2,1171.8 1279.3,1170.8 1279.4,1169.8 1279.4,1168.8 1279.5,1167.8 1279.6,1166.8 1279.6,1165.8 1279.7,1164.8 1279.8,1163.8 1279.8,1162.9 1279.9,1161.9 1280,1160.9 1280,1159.9 1280.1,1158.9 1280.2,1157.9 1280.2,1156.9 1280.3,1155.9 1280.4,1154.9 1280.5,1153.9 1280.5,1152.9 1280.6,1151.9 1280.7,1150.9 1280.7,1149.9 1280.8,1148.9 1280.9,1147.9 1280.9,1146.9 1281,1145.9 1281.1,1144.9 1281.1,1143.9 1281.2,1142.9 1281.3,1141.9 1281.3,1140.9 1281.4,1139.9 1281.5,1138.9 1281.6,1137.9 1281.6,1137 1281.7,1136 1281.8,1135 1281.8,1134 1281.9,1133 1282,1132 1282,1131 1282.1,1130 1282.2,1129 1282.2,1128 1282.3,1127 1282.4,1126 1282.5,1125 1282.5,1124 1282.6,1123 1282.6,1122 1282.7,1121 1282.7,1120 1282.8,1119 1282.8,1118 1282.9,1117 1282.9,1116 1283,1115.1 1283,1114.1 1283.1,1113.1 1283.2,1112.1 1283.2,1111.1 1283.3,1110.1 1283.3,1109.1 1283.4,1108.1 1283.4,1107.1 1283.5,1106.1 1283.5,1105.1 1283.6,1104.1 1283.6,1103.1 1283.7,1102.1 1283.8,1101.1 1283.8,1100.1 1283.9,1099.1 1283.9,1098.1 1284,1097.1 1284,1096.2 1284.1,1095.2 1284.1,1094.2 1284.2,1093.2 1284.2,1092.2 1284.3,1091.2 1284.4,1090.2 1284.4,1089.2 1284.5,1088.2 1284.5,1087.2 1284.6,1086.2 1284.6,1085.2 1284.7,1084.2 1284.7,1083.2 1284.8,1082.2 1284.8,1081.2 1284.9,1080.2 1285,1079.2 1285,1078.2 1285.1,1077.3 1285.1,1076.3 1285.2,1075.3 1285.2,1074.3 1285.3,1073.3 1285.3,1072.3 1285.4,1071.3 1285.4,1070.3 1285.5,1069.3 1285.5,1068.3 1285.6,1067.3 1285.7,1066.3 1285.8,1065.3 1285.9,1064.3 1285.9,1063.3 1286,1062.3 1286.1,1061.3 1286.2,1060.4 1286.2,1059.4 1286.3,1058.4 1286.4,1057.4 1286.5,1056.4 1286.6,1055.4 1286.6,1054.4 1286.7,1053.4 1286.8,1052.4 1286.9,1051.4 1286.9,1050.4 1287,1049.4 1287.1,1048.4 1287.2,1047.4 1287.2,1046.5 1287.3,1045.5 1287.4,1044.5 1287.5,1043.5 1287.6,1042.5 1287.6,1041.5 1287.7,1040.5 1287.8,1039.5 1287.9,1038.5 1287.9,1037.5 1288,1036.5 1288.1,1035.5 1288.2,1034.5 1288.3,1033.5 1288.3,1032.6 1288.4,1031.6 1288.5,1030.6 1288.6,1029.6 1288.6,1028.6 1288.7,1027.6 1288.8,1026.6 1288.9,1025.6 1288.9,1024.6 1289,1023.6 1289.1,1022.6 1289.2,1021.6 1289.3,1020.6 1289.3,1019.6 1289.4,1018.7 1289.5,1017.7 1289.6,1016.7 1289.6,1015.7 1289.7,1014.7 1289.8,1013.7 1289.9,1012.7 1290,1011.7 1290,1010.7 1290.1,1009.7 1290.1,1008.7 1290.2,1007.7 1290.2,1006.7 1290.3,1005.7 1290.4,1004.7 1290.4,1003.7 1290.5,1002.7 1290.5,1001.7 1290.6,1000.7 1290.7,999.7 1290.7,998.7 1290.8,997.7 1290.8,996.7 1290.9,995.7 1291,994.7 1291,993.7 1291.1,992.7 1291.1,991.7 1291.2,990.7 1291.3,989.7 1291.3,988.7 1291.4,987.7 1291.4,986.7 1291.5,985.7 1291.6,984.7 1291.6,983.6 1291.7,982.6 1291.7,981.6 1291.8,980.6 1291.8,979.6 1291.9,978.6 1292,977.6 1292,976.6 1292.1,975.6 1292.1,974.6 1292.2,973.6 1292.3,972.6 1292.3,971.6 1292.4,970.6 1292.4,969.6 1292.5,968.6 1292.6,967.6 1292.6,966.6 1292.7,965.6 1292.7,964.6 1292.8,963.6 1292.9,962.6 1292.9,961.6 1293,960.6 1293,959.6 1293.1,958.6 1293.2,957.6 1293.2,956.6 1293.2,955.6 1293.3,954.6 1293.4,953.6 1293.4,952.6 1293.5,951.6 1293.5,950.5 1293.6,949.5 1293.6,948.5 1293.7,947.5 1293.7,946.5 1293.8,945.5 1293.8,944.5 1293.9,943.5 1293.9,942.5 1294,941.5 1294,940.5 1294.1,939.5 1294.1,938.4 1294.2,937.4 1294.2,936.4 1294.2,935.4 1294.3,934.4 1294.4,933.4 1294.4,932.4 1294.5,931.4 1294.5,930.4 1294.6,929.4 1294.6,928.4 1294.7,927.4 1294.7,926.4 1294.8,925.3 1294.8,924.3 1294.9,923.3 1294.9,922.3 1295,921.3 1295,920.3 1295.1,919.3 1295.1,918.3 1295.2,917.3 1295.2,916.3 1295.2,915.3 1295.3,914.3 1295.4,913.2 1295.4,912.2 1295.5,911.2 1295.5,910.2 1295.6,909.2 1295.6,908.2 1295.7,907.2 1295.7,906.2 1295.8,905.2 1295.9,904.2 1296,903.2 1296,902.2 1296.1,901.2 1296.2,900.1 1296.3,899.1 1296.3,898.1 1296.4,897.1 1296.5,896.1 1296.6,895.1 1296.6,894.1 1296.7,893.1 1296.8,892.1 1296.9,891.1 1296.9,890.1 1297,889.1 1297.1,888 1297.2,887 1297.2,886 1297.3,885 1297.4,884 1297.5,883 1297.5,882 1297.7,881 1297.9,880.1 1298.1,879.1 1298.3,878.2 1298.5,877.2 1298.6,876.2 1298.8,875.3 1299,874.3 1299.2,873.4 1299.4,872.4 1299.6,871.5 1299.7,870.5 1299.9,869.5 1300.1,868.6 1300.3,867.6 1300.5,866.7 1300.7,865.7 1301.2,864.9 1301.7,864.1 1302.2,863.2 1302.7,862.4 1303.2,861.6 1303.7,860.8 1304.2,860 1304.7,859.1 1305.2,858.3 1305.8,857.5 1306.8,857.2 1307.8,856.9 1308.8,856.6 1309.8,856.3 1310.8,856 1311.8,855.8 1312.8,855.5 1313.8,855.2 1314.8,854.9 1315.8,854.6 1316.8,854.6 1317.8,854.6 1318.8,854.6 1319.8,854.6 1320.8,854.6 1321.9,854.6 1322.9,854.6 1323.9,854.6 1324.4,855.5 1324.9,856.3 1325.4,857.2 1325.9,858.1 1326.4,859 1326.9,859.8 1327.3,860.7 1327.8,861.6 1328.3,862.4 1328.8,863.3 1329.3,864.2 1329.8,865 1330.3,865.9 1330.8,866.8 1331.3,867.7 1331.8,868.5 1332.3,869.4 1332.8,870.3 1333.2,871.1 1333.7,872 1334.2,872.9 1334.7,873.7 1335.2,874.6 1335.7,875.5 1336.2,876.4 1336.7,877.2 1337.2,878.1 1337.7,879 1338.2,879.8 1338.7,880.7 1339.1,881.6 1339.6,882.4 1340.1,883.3 1340.6,884.2 1341.1,885.1 1341.6,885.9 1342.1,886.8 1342.8,887.4 1343.6,888 1344.3,888.7 1345.1,889.3 1345.8,889.9 1346.5,890.5 1347.3,891.2 1348,891.8 1348.8,892.4 1349.5,893 1350.3,893.7 1351,894.3 1351.9,894.9 1352.7,895.4 1353.6,896 1354.4,896.6 1355.3,897.1 1356.1,897.7 1357,898.2 1357.9,898.8 1358.7,899.4 1359.6,899.9 1360.4,900.5 1361.3,901.1 1362.1,901.6 1363,902.2 1364,902.3 1364.9,902.4 1365.8,902.5 1366.8,902.6 1367.8,902.7 1368.7,902.8 1369.7,902.9 1370.6,903 1371.5,903.1 1372.5,903.2" fill="none" stroke="none" marker-start="url(#tri)" marker-mid="url(#tri)" marker-end="url(#tri)"/>
</g>
<path d="M1288.5 1423.5v7.6M1327.9 1423.5v7.6M1367.3 1423.5v7.6M1446.1 1423.5v7.6M1485.5 1423.5v7.6M1524.9 1423.5v7.6M1603.7 1423.5v7.6M1643.1 1423.5v7.6M1682.5 1423.5v7.6M1761.3 1423.5v7.6M1800.7 1423.5v7.6M1840.1 1423.5v7.6M1918.9 1423.5v7.6M1958.3 1423.5v7.6M1997.7 1423.5v7.6M1210.7 1367.6h-7.6M1210.7 1339.3h-7.6M1210.7 1311h-7.6M1210.7 1282.7h-7.6M1210.7 1226.1h-7.6M1210.7 1197.8h-7.6M1210.7 1169.5h-7.6M1210.7 1141.2h-7.6M1210.7 1084.6h-7.6M1210.7 1056.3h-7.6M1210.7 1028h-7.6M1210.7 999.7h-7.6M1210.7 943.1h-7.6M1210.7 914.8h-7.6M1210.7 886.5h-7.6M1210.7 858.2h-7.6" fill="none" stroke="#000" stroke-width="2.3"/>
<path d="M1249.1 1423.5v13.1M1406.7 1423.5v13.1M1564.3 1423.5v13.1M1721.9 1423.5v13.1M1879.5 1423.5v13.1M2037.1 1423.5v13.1M1210.7 1395.9h-13.1M1210.7 1254.4h-13.1M1210.7 1112.9h-13.1M1210.7 971.4h-13.1M1210.7 829.9h-13.1M1210.7 829.9h-13.1" fill="none" stroke="#000" stroke-width="3.0"/>
<rect x="1210.7" y="827.9" width="851.8" height="595.6" fill="none" stroke="#000" stroke-width="3.0"/>
<g font-size="38.5" text-anchor="end" letter-spacing="-0.25">
<text x="1183.1" y="1408.7">0.0000</text>
<text x="1183.1" y="1267.2">0.0005</text>
<text x="1183.1" y="1125.7">0.0010</text>
<text x="1183.1" y="984.2">0.0015</text>
<text x="1183.1" y="842.7">0.0020</text>
</g>
<g font-size="38.5" text-anchor="middle">
<text x="1249.1" y="1475.9">0</text>
<text x="1406.7" y="1475.9">2</text>
<text x="1564.3" y="1475.9">4</text>
<text x="1721.9" y="1475.9">6</text>
<text x="1879.5" y="1475.9">8</text>
<text x="2037.1" y="1475.9">10</text>
</g>
</g>
<text font-size="46"><tspan x="496.5" y="48.7" font-style="italic">j</tspan><tspan x="509" y="60.2" font-size="32" font-style="italic">pl </tspan><tspan x="546.3" y="50.6">[</tspan><tspan x="561.3" y="48.7">A.</tspan><tspan x="605.3" y="48.7" font-style="italic">m</tspan><tspan x="638.8" y="21.7" font-size="32">−2</tspan><tspan x="675" y="50.6">]</tspan></text>
<text font-size="46"><tspan x="1544.8" y="48.7" font-style="italic">j</tspan><tspan x="1557.2" y="60.2" font-size="32" font-style="italic">pl </tspan><tspan x="1594.5" y="50.6">[</tspan><tspan x="1609.5" y="48.7">A.</tspan><tspan x="1653.5" y="48.7" font-style="italic">m</tspan><tspan x="1687" y="21.7" font-size="32">−2</tspan><tspan x="1723.2" y="50.6">]</tspan></text>
<text x="587.5" y="805.6" font-size="46" text-anchor="middle" letter-spacing="-0.28">Capacity lost due to plating [Ah]</text>
<text x="1635.7" y="805.6" font-size="46" text-anchor="middle" letter-spacing="-0.28">Capacity lost due to plating [Ah]</text>
<text x="586.9" y="1524.4" font-size="38" text-anchor="middle">Time [hr]</text>
<text x="1635" y="1524.4" font-size="38" text-anchor="middle">Time [hr]</text>
<path d="M789.8 559.2H872.5" stroke="#00f" stroke-width="7.5" fill="none"/>
<path d="M789.8 612.6H872.5" stroke="#f00" stroke-width="7.5" fill="none"/>
<path d="M818.1 601.2h25.2L830.7 626.2Z" fill="#f00"/>
<text x="899.4" y="572.3" font-size="38" letter-spacing="-0.6">C/5</text>
<text x="900.6" y="625.7" font-size="38" letter-spacing="-0.6">1.5C</text>
<path d="M1847 559.2H1929.7" stroke="#00f" stroke-width="7.5" fill="none"/>
<path d="M1847 612.6H1929.7" stroke="#f00" stroke-width="7.5" fill="none"/>
<path d="M1875.3 601.2h25.2L1887.9 626.2Z" fill="#f00"/>
<text x="1956.6" y="572.3" font-size="38" letter-spacing="-0.6">C/5</text>
<text x="1957.8" y="625.7" font-size="38" letter-spacing="-0.6">1.5C</text>
<ellipse cx="1364.5" cy="891" rx="64.5" ry="52.4" fill="none" stroke="#000" stroke-width="7.6"/>
<ellipse cx="1844.75" cy="1269.35" rx="226.2" ry="94" transform="rotate(26 1844.75 1269.35)" fill="none" stroke="#000" stroke-width="8"/>
<text x="1651.8" y="1058.6" font-size="52" letter-spacing="0.36">Li Stripping</text>
<text font-size="52"><tspan x="344.7" y="1623.7" letter-spacing="0.35">a) Using Conventional </tspan><tspan x="836.5" y="1623.7" font-style="italic">i</tspan><tspan x="853.8" y="1635.1" font-size="38" letter-spacing="2">0,pl</tspan></text>
<text font-size="52"><tspan x="1328.4" y="1623.7" letter-spacing="0.24">b) Using Modified </tspan><tspan x="1733" y="1623.7" font-style="italic">i</tspan><tspan x="1750.9" y="1635.1" font-size="38" letter-spacing="2">0,pl</tspan></text>
</svg>
</body></html>
